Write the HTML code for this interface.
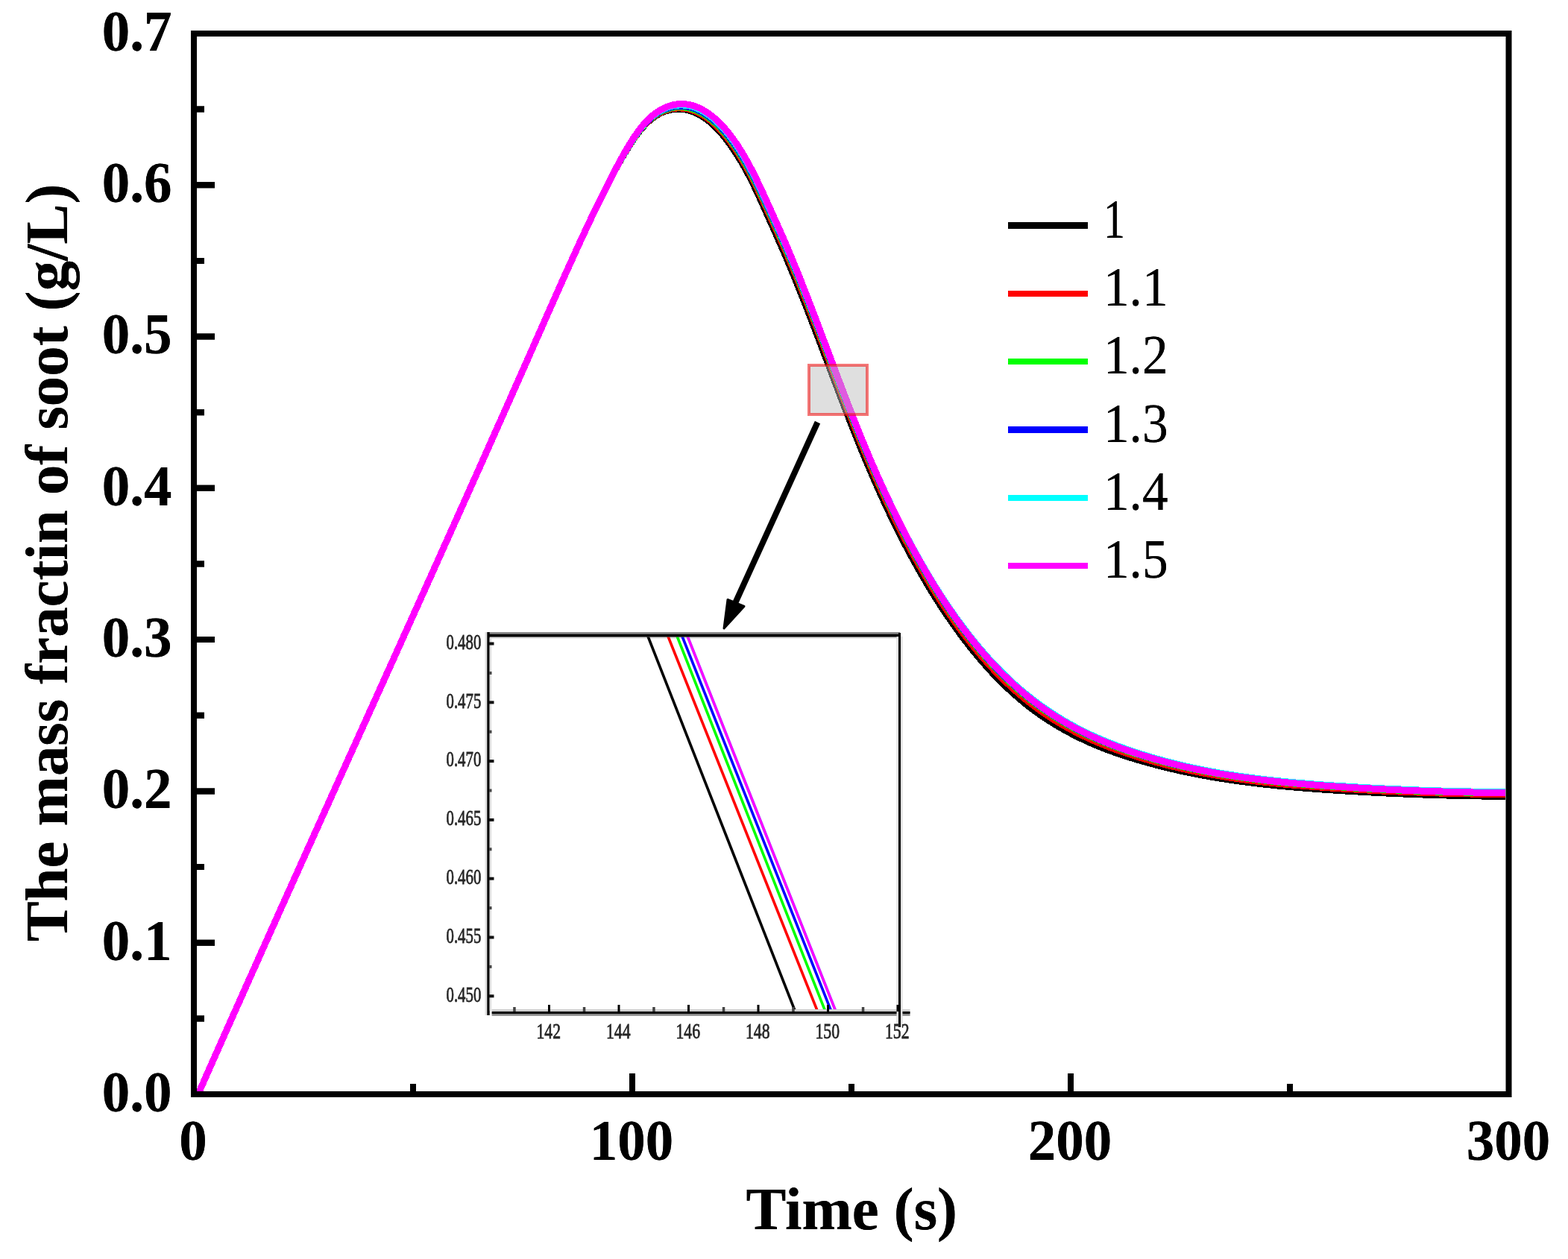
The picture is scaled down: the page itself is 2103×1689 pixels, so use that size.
<!DOCTYPE html><html><head><meta charset="utf-8"><title>Soot mass fraction vs time</title><style>html,body{margin:0;padding:0;background:#fff;}svg{display:block;}text{font-family:"Liberation Serif","Times New Roman",serif;}</style></head><body>
<svg width="2103" height="1689" viewBox="0 0 2103 1689">
<rect x="0" y="0" width="2103" height="1689" fill="#fff"/>
<clipPath id="pc"><rect x="264" y="49" width="1755" height="1415"/></clipPath>
<g clip-path="url(#pc)" fill="none" stroke-width="9" stroke-linejoin="round" stroke-linecap="butt" shape-rendering="crispEdges">
<polyline stroke="#000000" points="264,1471.8 265,1469.6 266,1467.3 267,1465.0 268,1462.8 269,1460.5 270,1458.3 271,1456.0 272,1453.8 273,1451.5 274,1449.2 275,1447.0 276,1444.7 277,1442.5 278,1440.2 279,1438.0 280,1435.7 281,1433.4 282,1431.2 283,1428.9 284,1426.7 285,1424.4 286,1422.2 287,1419.9 288,1417.7 289,1415.4 290,1413.2 291,1410.9 292,1408.7 293,1406.4 294,1404.2 295,1401.9 296,1399.7 297,1397.4 298,1395.2 299,1392.9 300,1390.7 301,1388.4 302,1386.2 303,1383.9 304,1381.7 305,1379.5 306,1377.2 307,1375.0 308,1372.7 309,1370.5 310,1368.2 311,1366.0 312,1363.7 313,1361.5 314,1359.3 315,1357.0 316,1354.8 317,1352.5 318,1350.3 319,1348.0 320,1345.8 321,1343.6 322,1341.3 323,1339.1 324,1336.8 325,1334.6 326,1332.4 327,1330.1 328,1327.9 329,1325.6 330,1323.4 331,1321.2 332,1318.9 333,1316.7 334,1314.5 335,1312.2 336,1310.0 337,1307.8 338,1305.5 339,1303.3 340,1301.0 341,1298.8 342,1296.6 343,1294.3 344,1292.1 345,1289.9 346,1287.6 347,1285.4 348,1283.2 349,1280.9 350,1278.7 351,1276.5 352,1274.2 353,1272.0 354,1269.8 355,1267.5 356,1265.3 357,1263.1 358,1260.9 359,1258.6 360,1256.4 361,1254.2 362,1251.9 363,1249.7 364,1247.5 365,1245.2 366,1243.0 367,1240.8 368,1238.6 369,1236.3 370,1234.1 371,1231.9 372,1229.6 373,1227.4 374,1225.2 375,1223.0 376,1220.7 377,1218.5 378,1216.3 379,1214.1 380,1211.8 381,1209.6 382,1207.4 383,1205.2 384,1202.9 385,1200.7 386,1198.5 387,1196.3 388,1194.0 389,1191.8 390,1189.6 391,1187.4 392,1185.1 393,1182.9 394,1180.7 395,1178.5 396,1176.2 397,1174.0 398,1171.8 399,1169.6 400,1167.4 401,1165.1 402,1162.9 403,1160.7 404,1158.5 405,1156.2 406,1154.0 407,1151.8 408,1149.6 409,1147.4 410,1145.1 411,1142.9 412,1140.7 413,1138.5 414,1136.3 415,1134.0 416,1131.8 417,1129.6 418,1127.4 419,1125.2 420,1122.9 421,1120.7 422,1118.5 423,1116.3 424,1114.1 425,1111.8 426,1109.6 427,1107.4 428,1105.2 429,1103.0 430,1100.8 431,1098.5 432,1096.3 433,1094.1 434,1091.9 435,1089.7 436,1087.4 437,1085.2 438,1083.0 439,1080.8 440,1078.6 441,1076.4 442,1074.1 443,1071.9 444,1069.7 445,1067.5 446,1065.3 447,1063.1 448,1060.8 449,1058.6 450,1056.4 451,1054.2 452,1052.0 453,1049.8 454,1047.5 455,1045.3 456,1043.1 457,1040.9 458,1038.7 459,1036.5 460,1034.2 461,1032.0 462,1029.8 463,1027.6 464,1025.4 465,1023.2 466,1020.9 467,1018.7 468,1016.5 469,1014.3 470,1012.1 471,1009.9 472,1007.7 473,1005.4 474,1003.2 475,1001.0 476,998.8 477,996.6 478,994.4 479,992.1 480,989.9 481,987.7 482,985.5 483,983.3 484,981.1 485,978.9 486,976.6 487,974.4 488,972.2 489,970.0 490,967.8 491,965.6 492,963.3 493,961.1 494,958.9 495,956.7 496,954.5 497,952.3 498,950.0 499,947.8 500,945.6 501,943.4 502,941.2 503,939.0 504,936.8 505,934.5 506,932.3 507,930.1 508,927.9 509,925.7 510,923.5 511,921.2 512,919.0 513,916.8 514,914.6 515,912.4 516,910.2 517,907.9 518,905.7 519,903.5 520,901.3 521,899.1 522,896.9 523,894.6 524,892.4 525,890.2 526,888.0 527,885.8 528,883.6 529,881.3 530,879.1 531,876.9 532,874.7 533,872.5 534,870.3 535,868.0 536,865.8 537,863.6 538,861.4 539,859.2 540,856.9 541,854.7 542,852.5 543,850.3 544,848.1 545,845.9 546,843.6 547,841.4 548,839.2 549,837.0 550,834.8 551,832.5 552,830.3 553,828.1 554,825.9 555,823.7 556,821.4 557,819.2 558,817.0 559,814.8 560,812.6 561,810.3 562,808.1 563,805.9 564,803.7 565,801.4 566,799.2 567,797.0 568,794.8 569,792.6 570,790.3 571,788.1 572,785.9 573,783.7 574,781.5 575,779.2 576,777.0 577,774.8 578,772.6 579,770.3 580,768.1 581,765.9 582,763.7 583,761.4 584,759.2 585,757.0 586,754.8 587,752.5 588,750.3 589,748.1 590,745.9 591,743.6 592,741.4 593,739.2 594,737.0 595,734.7 596,732.5 597,730.3 598,728.0 599,725.8 600,723.6 601,721.4 602,719.1 603,716.9 604,714.7 605,712.5 606,710.2 607,708.0 608,705.8 609,703.5 610,701.3 611,699.1 612,696.8 613,694.6 614,692.4 615,690.1 616,687.9 617,685.7 618,683.5 619,681.2 620,679.0 621,676.8 622,674.5 623,672.3 624,670.1 625,667.8 626,665.6 627,663.4 628,661.1 629,658.9 630,656.7 631,654.4 632,652.2 633,649.9 634,647.7 635,645.5 636,643.2 637,641.0 638,638.8 639,636.5 640,634.3 641,632.0 642,629.8 643,627.6 644,625.3 645,623.1 646,620.9 647,618.6 648,616.4 649,614.1 650,611.9 651,609.6 652,607.4 653,605.2 654,602.9 655,600.7 656,598.4 657,596.2 658,594.0 659,591.7 660,589.5 661,587.2 662,585.0 663,582.7 664,580.5 665,578.2 666,576.0 667,573.7 668,571.5 669,569.3 670,567.0 671,564.8 672,562.5 673,560.3 674,558.0 675,555.8 676,553.5 677,551.3 678,549.0 679,546.8 680,544.5 681,542.3 682,540.0 683,537.8 684,535.5 685,533.3 686,531.0 687,528.7 688,526.5 689,524.2 690,522.0 691,519.7 692,517.5 693,515.2 694,513.0 695,510.7 696,508.4 697,506.2 698,503.9 699,501.7 700,499.4 701,497.2 702,494.9 703,492.6 704,490.4 705,488.1 706,485.9 707,483.6 708,481.3 709,479.1 710,476.8 711,474.5 712,472.3 713,470.0 714,467.8 715,465.5 716,463.2 717,461.0 718,458.7 719,456.4 720,454.2 721,451.9 722,449.6 723,447.4 724,445.1 725,442.8 726,440.6 727,438.3 728,436.0 729,433.8 730,431.5 731,429.2 732,427.0 733,424.7 734,422.4 735,420.2 736,417.9 737,415.6 738,413.4 739,411.1 740,408.9 741,406.6 742,404.4 743,402.1 744,399.8 745,397.6 746,395.3 747,393.1 748,390.8 749,388.6 750,386.4 751,384.1 752,381.9 753,379.6 754,377.4 755,375.2 756,372.9 757,370.7 758,368.5 759,366.3 760,364.0 761,361.8 762,359.6 763,357.4 764,355.2 765,353.0 766,350.8 767,348.6 768,346.4 769,344.2 770,342.0 771,339.8 772,337.6 773,335.4 774,333.2 775,331.0 776,328.9 777,326.7 778,324.5 779,322.4 780,320.2 781,318.1 782,315.9 783,313.8 784,311.6 785,309.5 786,307.3 787,305.2 788,303.1 789,301.0 790,298.9 791,296.7 792,294.6 793,292.5 794,290.4 795,288.4 796,286.3 797,284.2 798,282.1 799,280.0 800,278.0 801,275.9 802,273.9 803,271.8 804,269.8 805,267.7 806,265.7 807,263.7 808,261.6 809,259.6 810,257.6 811,255.6 812,253.6 813,251.6 814,249.6 815,247.7 816,245.7 817,243.7 818,241.8 819,239.8 820,237.9 821,235.9 822,234.0 823,232.1 824,230.2 825,228.3 826,226.5 827,224.6 828,222.8 829,221.0 830,219.2 831,217.4 832,215.6 833,213.8 834,212.1 835,210.4 836,208.6 837,207.0 838,205.3 839,203.6 840,202.0 841,200.3 842,198.7 843,197.1 844,195.5 845,194.0 846,192.4 847,190.9 848,189.4 849,187.9 850,186.4 851,185.0 852,183.6 853,182.2 854,180.8 855,179.5 856,178.1 857,176.9 858,175.6 859,174.4 860,173.1 861,172.0 862,170.8 863,169.7 864,168.6 865,167.5 866,166.5 867,165.5 868,164.5 869,163.6 870,162.7 871,161.8 872,160.9 873,160.1 874,159.3 875,158.5 876,157.8 877,157.0 878,156.3 879,155.7 880,155.0 881,154.4 882,153.8 883,153.3 884,152.7 885,152.2 886,151.7 887,151.2 888,150.8 889,150.4 890,150.0 891,149.6 892,149.2 893,148.9 894,148.6 895,148.3 896,148.0 897,147.8 898,147.5 899,147.3 900,147.1 901,146.9 902,146.8 903,146.6 904,146.5 905,146.4 906,146.3 907,146.3 908,146.2 909,146.2 910,146.2 911,146.2 912,146.3 913,146.3 914,146.4 915,146.5 916,146.6 917,146.7 918,146.9 919,147.0 920,147.2 921,147.4 922,147.6 923,147.9 924,148.1 925,148.4 926,148.7 927,149.0 928,149.4 929,149.7 930,150.1 931,150.5 932,150.9 933,151.4 934,151.8 935,152.3 936,152.8 937,153.3 938,153.8 939,154.4 940,155.0 941,155.6 942,156.2 943,156.8 944,157.5 945,158.1 946,158.8 947,159.6 948,160.3 949,161.0 950,161.8 951,162.6 952,163.4 953,164.3 954,165.1 955,166.0 956,166.9 957,167.8 958,168.8 959,169.7 960,170.7 961,171.7 962,172.8 963,173.8 964,174.9 965,176.0 966,177.1 967,178.2 968,179.4 969,180.6 970,181.8 971,183.0 972,184.2 973,185.5 974,186.8 975,188.1 976,189.4 977,190.7 978,192.1 979,193.5 980,194.9 981,196.3 982,197.7 983,199.2 984,200.7 985,202.2 986,203.7 987,205.2 988,206.8 989,208.4 990,209.9 991,211.6 992,213.2 993,214.8 994,216.5 995,218.2 996,219.9 997,221.7 998,223.4 999,225.2 1000,227.0 1001,228.8 1002,230.7 1003,232.5 1004,234.4 1005,236.4 1006,238.3 1007,240.3 1008,242.2 1009,244.3 1010,246.3 1011,248.3 1012,250.4 1013,252.5 1014,254.6 1015,256.7 1016,258.8 1017,261.0 1018,263.1 1019,265.3 1020,267.5 1021,269.7 1022,271.9 1023,274.1 1024,276.3 1025,278.6 1026,280.8 1027,283.0 1028,285.3 1029,287.5 1030,289.8 1031,292.0 1032,294.3 1033,296.5 1034,298.8 1035,301.0 1036,303.2 1037,305.5 1038,307.7 1039,310.0 1040,312.2 1041,314.5 1042,316.7 1043,319.0 1044,321.3 1045,323.5 1046,325.8 1047,328.1 1048,330.3 1049,332.6 1050,334.9 1051,337.2 1052,339.5 1053,341.8 1054,344.2 1055,346.5 1056,348.9 1057,351.2 1058,353.6 1059,356.0 1060,358.3 1061,360.7 1062,363.2 1063,365.6 1064,368.0 1065,370.4 1066,372.9 1067,375.3 1068,377.8 1069,380.3 1070,382.7 1071,385.2 1072,387.7 1073,390.2 1074,392.7 1075,395.2 1076,397.8 1077,400.3 1078,402.8 1079,405.4 1080,407.9 1081,410.5 1082,413.0 1083,415.6 1084,418.2 1085,420.7 1086,423.3 1087,425.9 1088,428.5 1089,431.1 1090,433.7 1091,436.3 1092,438.9 1093,441.5 1094,444.1 1095,446.8 1096,449.4 1097,452.0 1098,454.6 1099,457.3 1100,459.9 1101,462.5 1102,465.2 1103,467.8 1104,470.4 1105,473.1 1106,475.7 1107,478.4 1108,481.0 1109,483.6 1110,486.3 1111,488.9 1112,491.6 1113,494.2 1114,496.9 1115,499.5 1116,502.2 1117,504.8 1118,507.4 1119,510.1 1120,512.7 1121,515.3 1122,518.0 1123,520.6 1124,523.2 1125,525.9 1126,528.5 1127,531.1 1128,533.7 1129,536.3 1130,538.9 1131,541.5 1132,544.1 1133,546.7 1134,549.3 1135,551.9 1136,554.5 1137,557.0 1138,559.6 1139,562.2 1140,564.7 1141,567.3 1142,569.8 1143,572.4 1144,574.9 1145,577.4 1146,579.9 1147,582.4 1148,585.0 1149,587.4 1150,589.9 1151,592.4 1152,594.9 1153,597.4 1154,599.8 1155,602.3 1156,604.7 1157,607.1 1158,609.5 1159,611.9 1160,614.3 1161,616.7 1162,619.1 1163,621.5 1164,623.8 1165,626.2 1166,628.5 1167,630.9 1168,633.2 1169,635.5 1170,637.8 1171,640.1 1172,642.4 1173,644.7 1174,647.0 1175,649.2 1176,651.5 1177,653.7 1178,656.0 1179,658.2 1180,660.4 1181,662.6 1182,664.8 1183,667.0 1184,669.2 1185,671.3 1186,673.5 1187,675.7 1188,677.8 1189,679.9 1190,682.1 1191,684.2 1192,686.3 1193,688.4 1194,690.5 1195,692.6 1196,694.6 1197,696.7 1198,698.8 1199,700.8 1200,702.9 1201,704.9 1202,706.9 1203,708.9 1204,710.9 1205,712.9 1206,714.9 1207,716.9 1208,718.9 1209,720.8 1210,722.8 1211,724.7 1212,726.7 1213,728.6 1214,730.5 1215,732.4 1216,734.3 1217,736.2 1218,738.1 1219,740.0 1220,741.9 1221,743.7 1222,745.6 1223,747.4 1224,749.3 1225,751.1 1226,752.9 1227,754.7 1228,756.5 1229,758.3 1230,760.1 1231,761.9 1232,763.7 1233,765.4 1234,767.2 1235,768.9 1236,770.7 1237,772.4 1238,774.1 1239,775.8 1240,777.5 1241,779.2 1242,780.9 1243,782.6 1244,784.3 1245,786.0 1246,787.6 1247,789.3 1248,790.9 1249,792.6 1250,794.2 1251,795.8 1252,797.4 1253,799.0 1254,800.6 1255,802.2 1256,803.8 1257,805.4 1258,807.0 1259,808.5 1260,810.1 1261,811.6 1262,813.2 1263,814.7 1264,816.2 1265,817.7 1266,819.2 1267,820.7 1268,822.2 1269,823.7 1270,825.2 1271,826.7 1272,828.2 1273,829.6 1274,831.1 1275,832.5 1276,833.9 1277,835.4 1278,836.8 1279,838.2 1280,839.6 1281,841.0 1282,842.4 1283,843.8 1284,845.2 1285,846.6 1286,848.0 1287,849.3 1288,850.7 1289,852.0 1290,853.4 1291,854.7 1292,856.0 1293,857.3 1294,858.7 1295,860.0 1296,861.3 1297,862.6 1298,863.9 1299,865.1 1300,866.4 1301,867.7 1302,868.9 1303,870.2 1304,871.4 1305,872.7 1306,873.9 1307,875.1 1308,876.4 1309,877.6 1310,878.8 1311,880.0 1312,881.2 1313,882.4 1314,883.6 1315,884.7 1316,885.9 1317,887.1 1318,888.2 1319,889.4 1320,890.5 1321,891.6 1322,892.8 1323,893.9 1324,895.0 1325,896.1 1326,897.2 1327,898.3 1328,899.4 1329,900.5 1330,901.6 1331,902.7 1332,903.7 1333,904.8 1334,905.8 1335,906.9 1336,907.9 1337,909.0 1338,910.0 1339,911.0 1340,912.0 1341,913.0 1342,914.0 1343,915.0 1344,916.0 1345,917.0 1346,918.0 1347,919.0 1348,919.9 1349,920.9 1350,921.9 1351,922.8 1352,923.8 1353,924.7 1354,925.6 1355,926.6 1356,927.5 1357,928.4 1358,929.3 1359,930.2 1360,931.1 1361,932.0 1362,932.9 1363,933.7 1364,934.6 1365,935.5 1366,936.3 1367,937.2 1368,938.0 1369,938.9 1370,939.7 1371,940.5 1372,941.4 1373,942.2 1374,943.0 1375,943.8 1376,944.6 1377,945.4 1378,946.2 1379,947.0 1380,947.8 1381,948.5 1382,949.3 1383,950.1 1384,950.8 1385,951.6 1386,952.3 1387,953.1 1388,953.8 1389,954.5 1390,955.2 1391,956.0 1392,956.7 1393,957.4 1394,958.1 1395,958.8 1396,959.5 1397,960.2 1398,960.9 1399,961.5 1400,962.2 1401,962.9 1402,963.6 1403,964.2 1404,964.9 1405,965.5 1406,966.2 1407,966.8 1408,967.5 1409,968.1 1410,968.7 1411,969.3 1412,970.0 1413,970.6 1414,971.2 1415,971.8 1416,972.4 1417,973.0 1418,973.6 1419,974.2 1420,974.8 1421,975.4 1422,976.0 1423,976.5 1424,977.1 1425,977.7 1426,978.2 1427,978.8 1428,979.4 1429,979.9 1430,980.5 1431,981.0 1432,981.6 1433,982.1 1434,982.6 1435,983.2 1436,983.7 1437,984.2 1438,984.8 1439,985.3 1440,985.8 1441,986.3 1442,986.8 1443,987.3 1444,987.8 1445,988.3 1446,988.8 1447,989.3 1448,989.8 1449,990.3 1450,990.8 1451,991.2 1452,991.7 1453,992.2 1454,992.7 1455,993.1 1456,993.6 1457,994.0 1458,994.5 1459,994.9 1460,995.4 1461,995.8 1462,996.3 1463,996.7 1464,997.2 1465,997.6 1466,998.0 1467,998.4 1468,998.9 1469,999.3 1470,999.7 1471,1000.1 1472,1000.5 1473,1000.9 1474,1001.3 1475,1001.7 1476,1002.1 1477,1002.5 1478,1002.9 1479,1003.3 1480,1003.7 1481,1004.1 1482,1004.5 1483,1004.9 1484,1005.3 1485,1005.6 1486,1006.0 1487,1006.4 1488,1006.8 1489,1007.1 1490,1007.5 1491,1007.9 1492,1008.2 1493,1008.6 1494,1008.9 1495,1009.3 1496,1009.6 1497,1010.0 1498,1010.3 1499,1010.7 1500,1011.0 1501,1011.4 1502,1011.7 1503,1012.0 1504,1012.4 1505,1012.7 1506,1013.0 1507,1013.4 1508,1013.7 1509,1014.0 1510,1014.3 1511,1014.7 1512,1015.0 1513,1015.3 1514,1015.6 1515,1015.9 1516,1016.3 1517,1016.6 1518,1016.9 1519,1017.2 1520,1017.5 1521,1017.8 1522,1018.1 1523,1018.4 1524,1018.7 1525,1019.0 1526,1019.3 1527,1019.6 1528,1019.9 1529,1020.2 1530,1020.5 1531,1020.8 1532,1021.1 1533,1021.4 1534,1021.6 1535,1021.9 1536,1022.2 1537,1022.5 1538,1022.8 1539,1023.1 1540,1023.3 1541,1023.6 1542,1023.9 1543,1024.2 1544,1024.4 1545,1024.7 1546,1025.0 1547,1025.2 1548,1025.5 1549,1025.8 1550,1026.0 1551,1026.3 1552,1026.6 1553,1026.8 1554,1027.1 1555,1027.3 1556,1027.6 1557,1027.9 1558,1028.1 1559,1028.4 1560,1028.6 1561,1028.9 1562,1029.1 1563,1029.4 1564,1029.6 1565,1029.9 1566,1030.1 1567,1030.4 1568,1030.6 1569,1030.8 1570,1031.1 1571,1031.3 1572,1031.5 1573,1031.8 1574,1032.0 1575,1032.2 1576,1032.5 1577,1032.7 1578,1032.9 1579,1033.2 1580,1033.4 1581,1033.6 1582,1033.8 1583,1034.0 1584,1034.3 1585,1034.5 1586,1034.7 1587,1034.9 1588,1035.1 1589,1035.3 1590,1035.6 1591,1035.8 1592,1036.0 1593,1036.2 1594,1036.4 1595,1036.6 1596,1036.8 1597,1037.0 1598,1037.2 1599,1037.4 1600,1037.6 1601,1037.8 1602,1038.0 1603,1038.2 1604,1038.4 1605,1038.6 1606,1038.8 1607,1039.0 1608,1039.2 1609,1039.4 1610,1039.5 1611,1039.7 1612,1039.9 1613,1040.1 1614,1040.3 1615,1040.5 1616,1040.7 1617,1040.8 1618,1041.0 1619,1041.2 1620,1041.4 1621,1041.5 1622,1041.7 1623,1041.9 1624,1042.1 1625,1042.2 1626,1042.4 1627,1042.6 1628,1042.7 1629,1042.9 1630,1043.1 1631,1043.2 1632,1043.4 1633,1043.6 1634,1043.7 1635,1043.9 1636,1044.1 1637,1044.2 1638,1044.4 1639,1044.5 1640,1044.7 1641,1044.9 1642,1045.0 1643,1045.2 1644,1045.3 1645,1045.5 1646,1045.6 1647,1045.8 1648,1045.9 1649,1046.1 1650,1046.2 1651,1046.4 1652,1046.5 1653,1046.7 1654,1046.8 1655,1046.9 1656,1047.1 1657,1047.2 1658,1047.4 1659,1047.5 1660,1047.7 1661,1047.8 1662,1047.9 1663,1048.1 1664,1048.2 1665,1048.3 1666,1048.5 1667,1048.6 1668,1048.7 1669,1048.9 1670,1049.0 1671,1049.1 1672,1049.3 1673,1049.4 1674,1049.5 1675,1049.7 1676,1049.8 1677,1049.9 1678,1050.0 1679,1050.2 1680,1050.3 1681,1050.4 1682,1050.5 1683,1050.7 1684,1050.8 1685,1050.9 1686,1051.0 1687,1051.1 1688,1051.3 1689,1051.4 1690,1051.5 1691,1051.6 1692,1051.7 1693,1051.8 1694,1051.9 1695,1052.1 1696,1052.2 1697,1052.3 1698,1052.4 1699,1052.5 1700,1052.6 1701,1052.7 1702,1052.8 1703,1052.9 1704,1053.0 1705,1053.1 1706,1053.2 1707,1053.4 1708,1053.5 1709,1053.6 1710,1053.7 1711,1053.8 1712,1053.9 1713,1054.0 1714,1054.1 1715,1054.2 1716,1054.3 1717,1054.4 1718,1054.5 1719,1054.5 1720,1054.6 1721,1054.7 1722,1054.8 1723,1054.9 1724,1055.0 1725,1055.1 1726,1055.2 1727,1055.3 1728,1055.4 1729,1055.5 1730,1055.6 1731,1055.7 1732,1055.7 1733,1055.8 1734,1055.9 1735,1056.0 1736,1056.1 1737,1056.2 1738,1056.3 1739,1056.3 1740,1056.4 1741,1056.5 1742,1056.6 1743,1056.7 1744,1056.8 1745,1056.8 1746,1056.9 1747,1057.0 1748,1057.1 1749,1057.2 1750,1057.2 1751,1057.3 1752,1057.4 1753,1057.5 1754,1057.6 1755,1057.6 1756,1057.7 1757,1057.8 1758,1057.9 1759,1057.9 1760,1058.0 1761,1058.1 1762,1058.2 1763,1058.2 1764,1058.3 1765,1058.4 1766,1058.5 1767,1058.5 1768,1058.6 1769,1058.7 1770,1058.7 1771,1058.8 1772,1058.9 1773,1059.0 1774,1059.0 1775,1059.1 1776,1059.2 1777,1059.2 1778,1059.3 1779,1059.4 1780,1059.4 1781,1059.5 1782,1059.6 1783,1059.6 1784,1059.7 1785,1059.8 1786,1059.8 1787,1059.9 1788,1060.0 1789,1060.0 1790,1060.1 1791,1060.2 1792,1060.2 1793,1060.3 1794,1060.3 1795,1060.4 1796,1060.5 1797,1060.5 1798,1060.6 1799,1060.7 1800,1060.7 1801,1060.8 1802,1060.8 1803,1060.9 1804,1061.0 1805,1061.0 1806,1061.1 1807,1061.2 1808,1061.2 1809,1061.3 1810,1061.3 1811,1061.4 1812,1061.5 1813,1061.5 1814,1061.6 1815,1061.6 1816,1061.7 1817,1061.7 1818,1061.8 1819,1061.9 1820,1061.9 1821,1062.0 1822,1062.0 1823,1062.1 1824,1062.1 1825,1062.2 1826,1062.3 1827,1062.3 1828,1062.4 1829,1062.4 1830,1062.5 1831,1062.5 1832,1062.6 1833,1062.6 1834,1062.7 1835,1062.7 1836,1062.8 1837,1062.9 1838,1062.9 1839,1063.0 1840,1063.0 1841,1063.1 1842,1063.1 1843,1063.2 1844,1063.2 1845,1063.3 1846,1063.3 1847,1063.4 1848,1063.4 1849,1063.5 1850,1063.5 1851,1063.6 1852,1063.6 1853,1063.7 1854,1063.7 1855,1063.8 1856,1063.8 1857,1063.9 1858,1063.9 1859,1064.0 1860,1064.0 1861,1064.1 1862,1064.1 1863,1064.1 1864,1064.2 1865,1064.2 1866,1064.3 1867,1064.3 1868,1064.4 1869,1064.4 1870,1064.5 1871,1064.5 1872,1064.6 1873,1064.6 1874,1064.6 1875,1064.7 1876,1064.7 1877,1064.8 1878,1064.8 1879,1064.9 1880,1064.9 1881,1064.9 1882,1065.0 1883,1065.0 1884,1065.1 1885,1065.1 1886,1065.1 1887,1065.2 1888,1065.2 1889,1065.3 1890,1065.3 1891,1065.3 1892,1065.4 1893,1065.4 1894,1065.5 1895,1065.5 1896,1065.5 1897,1065.6 1898,1065.6 1899,1065.7 1900,1065.7 1901,1065.7 1902,1065.8 1903,1065.8 1904,1065.8 1905,1065.9 1906,1065.9 1907,1065.9 1908,1066.0 1909,1066.0 1910,1066.0 1911,1066.1 1912,1066.1 1913,1066.1 1914,1066.2 1915,1066.2 1916,1066.2 1917,1066.3 1918,1066.3 1919,1066.3 1920,1066.4 1921,1066.4 1922,1066.4 1923,1066.5 1924,1066.5 1925,1066.5 1926,1066.6 1927,1066.6 1928,1066.6 1929,1066.7 1930,1066.7 1931,1066.7 1932,1066.7 1933,1066.8 1934,1066.8 1935,1066.8 1936,1066.9 1937,1066.9 1938,1066.9 1939,1066.9 1940,1067.0 1941,1067.0 1942,1067.0 1943,1067.0 1944,1067.1 1945,1067.1 1946,1067.1 1947,1067.1 1948,1067.2 1949,1067.2 1950,1067.2 1951,1067.2 1952,1067.3 1953,1067.3 1954,1067.3 1955,1067.3 1956,1067.4 1957,1067.4 1958,1067.4 1959,1067.4 1960,1067.5 1961,1067.5 1962,1067.5 1963,1067.5 1964,1067.5 1965,1067.6 1966,1067.6 1967,1067.6 1968,1067.6 1969,1067.6 1970,1067.7 1971,1067.7 1972,1067.7 1973,1067.7 1974,1067.7 1975,1067.8 1976,1067.8 1977,1067.8 1978,1067.8 1979,1067.8 1980,1067.8 1981,1067.9 1982,1067.9 1983,1067.9 1984,1067.9 1985,1067.9 1986,1067.9 1987,1068.0 1988,1068.0 1989,1068.0 1990,1068.0 1991,1068.0 1992,1068.0 1993,1068.1 1994,1068.1 1995,1068.1 1996,1068.1 1997,1068.1 1998,1068.1 1999,1068.1 2000,1068.1 2001,1068.2 2002,1068.2 2003,1068.2 2004,1068.2 2005,1068.2 2006,1068.2 2007,1068.2 2008,1068.2 2009,1068.2 2010,1068.3 2011,1068.3 2012,1068.3 2013,1068.3 2014,1068.3 2015,1068.3 2016,1068.3 2017,1068.3 2018,1068.3 2019,1068.3 2020,1068.4"/>
<polyline stroke="#ff0000" points="264,1471.8 265,1469.6 266,1467.3 267,1465.0 268,1462.8 269,1460.5 270,1458.3 271,1456.0 272,1453.8 273,1451.5 274,1449.2 275,1447.0 276,1444.7 277,1442.5 278,1440.2 279,1438.0 280,1435.7 281,1433.4 282,1431.2 283,1428.9 284,1426.7 285,1424.4 286,1422.2 287,1419.9 288,1417.7 289,1415.4 290,1413.2 291,1410.9 292,1408.7 293,1406.4 294,1404.2 295,1401.9 296,1399.7 297,1397.4 298,1395.2 299,1392.9 300,1390.7 301,1388.4 302,1386.2 303,1383.9 304,1381.7 305,1379.5 306,1377.2 307,1375.0 308,1372.7 309,1370.5 310,1368.2 311,1366.0 312,1363.7 313,1361.5 314,1359.3 315,1357.0 316,1354.8 317,1352.5 318,1350.3 319,1348.0 320,1345.8 321,1343.6 322,1341.3 323,1339.1 324,1336.8 325,1334.6 326,1332.4 327,1330.1 328,1327.9 329,1325.6 330,1323.4 331,1321.2 332,1318.9 333,1316.7 334,1314.5 335,1312.2 336,1310.0 337,1307.8 338,1305.5 339,1303.3 340,1301.0 341,1298.8 342,1296.6 343,1294.3 344,1292.1 345,1289.9 346,1287.6 347,1285.4 348,1283.2 349,1280.9 350,1278.7 351,1276.5 352,1274.2 353,1272.0 354,1269.8 355,1267.5 356,1265.3 357,1263.1 358,1260.9 359,1258.6 360,1256.4 361,1254.2 362,1251.9 363,1249.7 364,1247.5 365,1245.2 366,1243.0 367,1240.8 368,1238.6 369,1236.3 370,1234.1 371,1231.9 372,1229.6 373,1227.4 374,1225.2 375,1223.0 376,1220.7 377,1218.5 378,1216.3 379,1214.1 380,1211.8 381,1209.6 382,1207.4 383,1205.2 384,1202.9 385,1200.7 386,1198.5 387,1196.3 388,1194.0 389,1191.8 390,1189.6 391,1187.4 392,1185.1 393,1182.9 394,1180.7 395,1178.5 396,1176.2 397,1174.0 398,1171.8 399,1169.6 400,1167.4 401,1165.1 402,1162.9 403,1160.7 404,1158.5 405,1156.2 406,1154.0 407,1151.8 408,1149.6 409,1147.4 410,1145.1 411,1142.9 412,1140.7 413,1138.5 414,1136.3 415,1134.0 416,1131.8 417,1129.6 418,1127.4 419,1125.2 420,1122.9 421,1120.7 422,1118.5 423,1116.3 424,1114.1 425,1111.8 426,1109.6 427,1107.4 428,1105.2 429,1103.0 430,1100.8 431,1098.5 432,1096.3 433,1094.1 434,1091.9 435,1089.7 436,1087.4 437,1085.2 438,1083.0 439,1080.8 440,1078.6 441,1076.4 442,1074.1 443,1071.9 444,1069.7 445,1067.5 446,1065.3 447,1063.1 448,1060.8 449,1058.6 450,1056.4 451,1054.2 452,1052.0 453,1049.8 454,1047.5 455,1045.3 456,1043.1 457,1040.9 458,1038.7 459,1036.5 460,1034.2 461,1032.0 462,1029.8 463,1027.6 464,1025.4 465,1023.2 466,1020.9 467,1018.7 468,1016.5 469,1014.3 470,1012.1 471,1009.9 472,1007.7 473,1005.4 474,1003.2 475,1001.0 476,998.8 477,996.6 478,994.4 479,992.1 480,989.9 481,987.7 482,985.5 483,983.3 484,981.1 485,978.9 486,976.6 487,974.4 488,972.2 489,970.0 490,967.8 491,965.6 492,963.3 493,961.1 494,958.9 495,956.7 496,954.5 497,952.3 498,950.0 499,947.8 500,945.6 501,943.4 502,941.2 503,939.0 504,936.8 505,934.5 506,932.3 507,930.1 508,927.9 509,925.7 510,923.5 511,921.2 512,919.0 513,916.8 514,914.6 515,912.4 516,910.2 517,907.9 518,905.7 519,903.5 520,901.3 521,899.1 522,896.9 523,894.6 524,892.4 525,890.2 526,888.0 527,885.8 528,883.6 529,881.3 530,879.1 531,876.9 532,874.7 533,872.5 534,870.3 535,868.0 536,865.8 537,863.6 538,861.4 539,859.2 540,856.9 541,854.7 542,852.5 543,850.3 544,848.1 545,845.9 546,843.6 547,841.4 548,839.2 549,837.0 550,834.8 551,832.5 552,830.3 553,828.1 554,825.9 555,823.7 556,821.4 557,819.2 558,817.0 559,814.8 560,812.6 561,810.3 562,808.1 563,805.9 564,803.7 565,801.4 566,799.2 567,797.0 568,794.8 569,792.6 570,790.3 571,788.1 572,785.9 573,783.7 574,781.5 575,779.2 576,777.0 577,774.8 578,772.6 579,770.3 580,768.1 581,765.9 582,763.7 583,761.4 584,759.2 585,757.0 586,754.8 587,752.5 588,750.3 589,748.1 590,745.9 591,743.6 592,741.4 593,739.2 594,737.0 595,734.7 596,732.5 597,730.3 598,728.0 599,725.8 600,723.6 601,721.4 602,719.1 603,716.9 604,714.7 605,712.5 606,710.2 607,708.0 608,705.8 609,703.5 610,701.3 611,699.1 612,696.8 613,694.6 614,692.4 615,690.1 616,687.9 617,685.7 618,683.5 619,681.2 620,679.0 621,676.8 622,674.5 623,672.3 624,670.1 625,667.8 626,665.6 627,663.4 628,661.1 629,658.9 630,656.7 631,654.4 632,652.2 633,649.9 634,647.7 635,645.5 636,643.2 637,641.0 638,638.8 639,636.5 640,634.3 641,632.0 642,629.8 643,627.6 644,625.3 645,623.1 646,620.9 647,618.6 648,616.4 649,614.1 650,611.9 651,609.6 652,607.4 653,605.2 654,602.9 655,600.7 656,598.4 657,596.2 658,594.0 659,591.7 660,589.5 661,587.2 662,585.0 663,582.7 664,580.5 665,578.2 666,576.0 667,573.7 668,571.5 669,569.3 670,567.0 671,564.8 672,562.5 673,560.3 674,558.0 675,555.8 676,553.5 677,551.3 678,549.0 679,546.8 680,544.5 681,542.3 682,540.0 683,537.8 684,535.5 685,533.3 686,531.0 687,528.7 688,526.5 689,524.2 690,522.0 691,519.7 692,517.5 693,515.2 694,513.0 695,510.7 696,508.4 697,506.2 698,503.9 699,501.7 700,499.4 701,497.2 702,494.9 703,492.6 704,490.4 705,488.1 706,485.9 707,483.6 708,481.3 709,479.1 710,476.8 711,474.5 712,472.3 713,470.0 714,467.8 715,465.5 716,463.2 717,461.0 718,458.7 719,456.4 720,454.2 721,451.9 722,449.6 723,447.4 724,445.1 725,442.8 726,440.6 727,438.3 728,436.0 729,433.8 730,431.5 731,429.2 732,427.0 733,424.7 734,422.4 735,420.2 736,417.9 737,415.6 738,413.4 739,411.1 740,408.9 741,406.6 742,404.4 743,402.1 744,399.8 745,397.6 746,395.3 747,393.1 748,390.8 749,388.6 750,386.4 751,384.1 752,381.9 753,379.6 754,377.4 755,375.2 756,372.9 757,370.7 758,368.5 759,366.3 760,364.0 761,361.8 762,359.6 763,357.4 764,355.2 765,353.0 766,350.8 767,348.6 768,346.4 769,344.2 770,342.0 771,339.8 772,337.6 773,335.4 774,333.2 775,331.0 776,328.9 777,326.7 778,324.5 779,322.4 780,320.2 781,318.1 782,315.9 783,313.8 784,311.6 785,309.5 786,307.3 787,305.2 788,303.1 789,301.0 790,298.9 791,296.7 792,294.6 793,292.5 794,290.4 795,288.4 796,286.3 797,284.2 798,282.1 799,280.0 800,278.0 801,275.9 802,273.9 803,271.8 804,269.8 805,267.7 806,265.7 807,263.7 808,261.6 809,259.6 810,257.6 811,255.6 812,253.6 813,251.6 814,249.6 815,247.7 816,245.7 817,243.7 818,241.8 819,239.8 820,237.9 821,235.9 822,234.0 823,232.1 824,230.2 825,228.3 826,226.5 827,224.6 828,222.8 829,220.9 830,219.1 831,217.3 832,215.5 833,213.7 834,212.0 835,210.2 836,208.5 837,206.8 838,205.1 839,203.4 840,201.8 841,200.1 842,198.5 843,196.9 844,195.3 845,193.7 846,192.1 847,190.6 848,189.1 849,187.6 850,186.1 851,184.7 852,183.2 853,181.8 854,180.4 855,179.1 856,177.8 857,176.4 858,175.2 859,173.9 860,172.7 861,171.5 862,170.3 863,169.2 864,168.1 865,167.0 866,166.0 867,164.9 868,164.0 869,163.0 870,162.1 871,161.2 872,160.3 873,159.4 874,158.6 875,157.8 876,157.1 877,156.3 878,155.6 879,154.9 880,154.3 881,153.7 882,153.0 883,152.5 884,151.9 885,151.4 886,150.9 887,150.4 888,149.9 889,149.5 890,149.1 891,148.7 892,148.3 893,147.9 894,147.6 895,147.3 896,147.0 897,146.7 898,146.5 899,146.2 900,146.0 901,145.8 902,145.6 903,145.5 904,145.3 905,145.2 906,145.1 907,145.0 908,145.0 909,144.9 910,144.9 911,144.9 912,144.9 913,145.0 914,145.0 915,145.1 916,145.1 917,145.2 918,145.4 919,145.5 920,145.7 921,145.8 922,146.0 923,146.2 924,146.5 925,146.7 926,147.0 927,147.3 928,147.6 929,147.9 930,148.3 931,148.6 932,149.0 933,149.4 934,149.9 935,150.3 936,150.8 937,151.2 938,151.8 939,152.3 940,152.8 941,153.4 942,154.0 943,154.6 944,155.2 945,155.8 946,156.5 947,157.2 948,157.9 949,158.6 950,159.3 951,160.1 952,160.8 953,161.6 954,162.5 955,163.3 956,164.2 957,165.0 958,165.9 959,166.9 960,167.8 961,168.8 962,169.7 963,170.7 964,171.8 965,172.8 966,173.9 967,175.0 968,176.1 969,177.2 970,178.3 971,179.5 972,180.7 973,181.9 974,183.1 975,184.4 976,185.7 977,186.9 978,188.3 979,189.6 980,190.9 981,192.3 982,193.7 983,195.1 984,196.5 985,198.0 986,199.4 987,200.9 988,202.4 989,204.0 990,205.5 991,207.1 992,208.7 993,210.3 994,211.9 995,213.6 996,215.2 997,216.9 998,218.6 999,220.4 1000,222.1 1001,223.9 1002,225.7 1003,227.5 1004,229.4 1005,231.3 1006,233.2 1007,235.1 1008,237.0 1009,239.0 1010,241.0 1011,243.0 1012,245.0 1013,247.0 1014,249.1 1015,251.2 1016,253.2 1017,255.3 1018,257.5 1019,259.6 1020,261.7 1021,263.9 1022,266.0 1023,268.2 1024,270.4 1025,272.6 1026,274.8 1027,277.0 1028,279.2 1029,281.4 1030,283.6 1031,285.8 1032,288.0 1033,290.2 1034,292.4 1035,294.6 1036,296.8 1037,299.1 1038,301.3 1039,303.5 1040,305.7 1041,307.9 1042,310.1 1043,312.4 1044,314.6 1045,316.8 1046,319.1 1047,321.3 1048,323.6 1049,325.8 1050,328.1 1051,330.4 1052,332.6 1053,334.9 1054,337.2 1055,339.5 1056,341.9 1057,344.2 1058,346.6 1059,348.9 1060,351.3 1061,353.7 1062,356.0 1063,358.4 1064,360.8 1065,363.3 1066,365.7 1067,368.1 1068,370.6 1069,373.0 1070,375.5 1071,377.9 1072,380.4 1073,382.9 1074,385.4 1075,387.9 1076,390.4 1077,392.9 1078,395.4 1079,397.9 1080,400.5 1081,403.0 1082,405.5 1083,408.1 1084,410.6 1085,413.2 1086,415.8 1087,418.3 1088,420.9 1089,423.5 1090,426.1 1091,428.7 1092,431.2 1093,433.8 1094,436.4 1095,439.0 1096,441.6 1097,444.3 1098,446.9 1099,449.5 1100,452.1 1101,454.7 1102,457.3 1103,460.0 1104,462.6 1105,465.2 1106,467.8 1107,470.5 1108,473.1 1109,475.7 1110,478.3 1111,481.0 1112,483.6 1113,486.2 1114,488.9 1115,491.5 1116,494.2 1117,496.8 1118,499.5 1119,502.1 1120,504.8 1121,507.4 1122,510.1 1123,512.7 1124,515.3 1125,518.0 1126,520.6 1127,523.2 1128,525.8 1129,528.5 1130,531.1 1131,533.7 1132,536.3 1133,538.9 1134,541.5 1135,544.1 1136,546.7 1137,549.3 1138,551.8 1139,554.4 1140,557.0 1141,559.5 1142,562.1 1143,564.6 1144,567.2 1145,569.7 1146,572.2 1147,574.8 1148,577.3 1149,579.8 1150,582.3 1151,584.8 1152,587.3 1153,589.7 1154,592.2 1155,594.7 1156,597.1 1157,599.5 1158,602.0 1159,604.4 1160,606.8 1161,609.2 1162,611.6 1163,614.0 1164,616.3 1165,618.7 1166,621.1 1167,623.4 1168,625.7 1169,628.1 1170,630.4 1171,632.7 1172,635.0 1173,637.3 1174,639.6 1175,641.8 1176,644.1 1177,646.4 1178,648.6 1179,650.8 1180,653.1 1181,655.3 1182,657.5 1183,659.7 1184,661.9 1185,664.1 1186,666.2 1187,668.4 1188,670.6 1189,672.7 1190,674.8 1191,677.0 1192,679.1 1193,681.2 1194,683.3 1195,685.4 1196,687.5 1197,689.6 1198,691.6 1199,693.7 1200,695.8 1201,697.8 1202,699.8 1203,701.9 1204,703.9 1205,705.9 1206,707.9 1207,709.9 1208,711.8 1209,713.8 1210,715.8 1211,717.7 1212,719.7 1213,721.6 1214,723.6 1215,725.5 1216,727.4 1217,729.3 1218,731.2 1219,733.1 1220,735.0 1221,736.8 1222,738.7 1223,740.6 1224,742.4 1225,744.3 1226,746.1 1227,747.9 1228,749.7 1229,751.5 1230,753.3 1231,755.1 1232,756.9 1233,758.7 1234,760.4 1235,762.2 1236,763.9 1237,765.7 1238,767.4 1239,769.1 1240,770.9 1241,772.6 1242,774.3 1243,776.0 1244,777.7 1245,779.3 1246,781.0 1247,782.7 1248,784.3 1249,786.0 1250,787.6 1251,789.2 1252,790.9 1253,792.5 1254,794.1 1255,795.7 1256,797.3 1257,798.9 1258,800.5 1259,802.0 1260,803.6 1261,805.2 1262,806.7 1263,808.2 1264,809.8 1265,811.3 1266,812.8 1267,814.3 1268,815.8 1269,817.3 1270,818.8 1271,820.3 1272,821.8 1273,823.3 1274,824.7 1275,826.2 1276,827.6 1277,829.1 1278,830.5 1279,831.9 1280,833.3 1281,834.7 1282,836.1 1283,837.5 1284,838.9 1285,840.3 1286,841.7 1287,843.1 1288,844.4 1289,845.8 1290,847.1 1291,848.5 1292,849.8 1293,851.1 1294,852.4 1295,853.8 1296,855.1 1297,856.4 1298,857.6 1299,858.9 1300,860.2 1301,861.5 1302,862.7 1303,864.0 1304,865.2 1305,866.5 1306,867.7 1307,869.0 1308,870.2 1309,871.4 1310,872.6 1311,873.8 1312,875.0 1313,876.2 1314,877.4 1315,878.6 1316,879.7 1317,880.9 1318,882.1 1319,883.2 1320,884.4 1321,885.5 1322,886.6 1323,887.7 1324,888.9 1325,890.0 1326,891.1 1327,892.2 1328,893.3 1329,894.4 1330,895.4 1331,896.5 1332,897.6 1333,898.7 1334,899.7 1335,900.8 1336,901.8 1337,902.8 1338,903.9 1339,904.9 1340,905.9 1341,906.9 1342,907.9 1343,908.9 1344,909.9 1345,910.9 1346,911.9 1347,912.9 1348,913.9 1349,914.8 1350,915.8 1351,916.7 1352,917.7 1353,918.6 1354,919.6 1355,920.5 1356,921.4 1357,922.3 1358,923.2 1359,924.1 1360,925.0 1361,925.9 1362,926.8 1363,927.7 1364,928.6 1365,929.5 1366,930.3 1367,931.2 1368,932.0 1369,932.9 1370,933.7 1371,934.6 1372,935.4 1373,936.2 1374,937.1 1375,937.9 1376,938.7 1377,939.5 1378,940.3 1379,941.1 1380,941.9 1381,942.7 1382,943.4 1383,944.2 1384,945.0 1385,945.7 1386,946.5 1387,947.3 1388,948.0 1389,948.7 1390,949.5 1391,950.2 1392,950.9 1393,951.7 1394,952.4 1395,953.1 1396,953.8 1397,954.5 1398,955.2 1399,955.9 1400,956.6 1401,957.3 1402,958.0 1403,958.6 1404,959.3 1405,960.0 1406,960.6 1407,961.3 1408,961.9 1409,962.6 1410,963.2 1411,963.9 1412,964.5 1413,965.1 1414,965.8 1415,966.4 1416,967.0 1417,967.6 1418,968.2 1419,968.9 1420,969.5 1421,970.1 1422,970.7 1423,971.2 1424,971.8 1425,972.4 1426,973.0 1427,973.6 1428,974.1 1429,974.7 1430,975.3 1431,975.8 1432,976.4 1433,977.0 1434,977.5 1435,978.0 1436,978.6 1437,979.1 1438,979.7 1439,980.2 1440,980.7 1441,981.3 1442,981.8 1443,982.3 1444,982.8 1445,983.3 1446,983.8 1447,984.3 1448,984.8 1449,985.3 1450,985.8 1451,986.3 1452,986.8 1453,987.3 1454,987.8 1455,988.2 1456,988.7 1457,989.2 1458,989.7 1459,990.1 1460,990.6 1461,991.0 1462,991.5 1463,991.9 1464,992.4 1465,992.8 1466,993.3 1467,993.7 1468,994.2 1469,994.6 1470,995.0 1471,995.4 1472,995.9 1473,996.3 1474,996.7 1475,997.1 1476,997.5 1477,998.0 1478,998.4 1479,998.8 1480,999.2 1481,999.6 1482,1000.0 1483,1000.4 1484,1000.8 1485,1001.2 1486,1001.5 1487,1001.9 1488,1002.3 1489,1002.7 1490,1003.1 1491,1003.5 1492,1003.8 1493,1004.2 1494,1004.6 1495,1004.9 1496,1005.3 1497,1005.7 1498,1006.0 1499,1006.4 1500,1006.7 1501,1007.1 1502,1007.4 1503,1007.8 1504,1008.1 1505,1008.5 1506,1008.8 1507,1009.2 1508,1009.5 1509,1009.9 1510,1010.2 1511,1010.5 1512,1010.9 1513,1011.2 1514,1011.5 1515,1011.9 1516,1012.2 1517,1012.5 1518,1012.8 1519,1013.1 1520,1013.5 1521,1013.8 1522,1014.1 1523,1014.4 1524,1014.7 1525,1015.0 1526,1015.4 1527,1015.7 1528,1016.0 1529,1016.3 1530,1016.6 1531,1016.9 1532,1017.2 1533,1017.5 1534,1017.8 1535,1018.1 1536,1018.4 1537,1018.7 1538,1019.0 1539,1019.2 1540,1019.5 1541,1019.8 1542,1020.1 1543,1020.4 1544,1020.7 1545,1021.0 1546,1021.2 1547,1021.5 1548,1021.8 1549,1022.1 1550,1022.3 1551,1022.6 1552,1022.9 1553,1023.2 1554,1023.4 1555,1023.7 1556,1024.0 1557,1024.2 1558,1024.5 1559,1024.8 1560,1025.0 1561,1025.3 1562,1025.5 1563,1025.8 1564,1026.1 1565,1026.3 1566,1026.6 1567,1026.8 1568,1027.1 1569,1027.3 1570,1027.6 1571,1027.8 1572,1028.0 1573,1028.3 1574,1028.5 1575,1028.8 1576,1029.0 1577,1029.2 1578,1029.5 1579,1029.7 1580,1029.9 1581,1030.2 1582,1030.4 1583,1030.6 1584,1030.9 1585,1031.1 1586,1031.3 1587,1031.5 1588,1031.8 1589,1032.0 1590,1032.2 1591,1032.4 1592,1032.6 1593,1032.9 1594,1033.1 1595,1033.3 1596,1033.5 1597,1033.7 1598,1033.9 1599,1034.1 1600,1034.3 1601,1034.5 1602,1034.7 1603,1034.9 1604,1035.1 1605,1035.3 1606,1035.5 1607,1035.7 1608,1035.9 1609,1036.1 1610,1036.3 1611,1036.5 1612,1036.7 1613,1036.9 1614,1037.1 1615,1037.3 1616,1037.5 1617,1037.7 1618,1037.9 1619,1038.0 1620,1038.2 1621,1038.4 1622,1038.6 1623,1038.8 1624,1039.0 1625,1039.1 1626,1039.3 1627,1039.5 1628,1039.7 1629,1039.8 1630,1040.0 1631,1040.2 1632,1040.4 1633,1040.5 1634,1040.7 1635,1040.9 1636,1041.0 1637,1041.2 1638,1041.4 1639,1041.5 1640,1041.7 1641,1041.8 1642,1042.0 1643,1042.2 1644,1042.3 1645,1042.5 1646,1042.6 1647,1042.8 1648,1042.9 1649,1043.1 1650,1043.3 1651,1043.4 1652,1043.6 1653,1043.7 1654,1043.9 1655,1044.0 1656,1044.2 1657,1044.3 1658,1044.4 1659,1044.6 1660,1044.7 1661,1044.9 1662,1045.0 1663,1045.2 1664,1045.3 1665,1045.4 1666,1045.6 1667,1045.7 1668,1045.9 1669,1046.0 1670,1046.1 1671,1046.3 1672,1046.4 1673,1046.5 1674,1046.7 1675,1046.8 1676,1046.9 1677,1047.1 1678,1047.2 1679,1047.3 1680,1047.4 1681,1047.6 1682,1047.7 1683,1047.8 1684,1047.9 1685,1048.1 1686,1048.2 1687,1048.3 1688,1048.4 1689,1048.5 1690,1048.7 1691,1048.8 1692,1048.9 1693,1049.0 1694,1049.1 1695,1049.2 1696,1049.3 1697,1049.5 1698,1049.6 1699,1049.7 1700,1049.8 1701,1049.9 1702,1050.0 1703,1050.1 1704,1050.2 1705,1050.3 1706,1050.4 1707,1050.5 1708,1050.7 1709,1050.8 1710,1050.9 1711,1051.0 1712,1051.1 1713,1051.2 1714,1051.3 1715,1051.4 1716,1051.5 1717,1051.6 1718,1051.7 1719,1051.8 1720,1051.9 1721,1052.0 1722,1052.1 1723,1052.1 1724,1052.2 1725,1052.3 1726,1052.4 1727,1052.5 1728,1052.6 1729,1052.7 1730,1052.8 1731,1052.9 1732,1053.0 1733,1053.1 1734,1053.2 1735,1053.2 1736,1053.3 1737,1053.4 1738,1053.5 1739,1053.6 1740,1053.7 1741,1053.8 1742,1053.8 1743,1053.9 1744,1054.0 1745,1054.1 1746,1054.2 1747,1054.3 1748,1054.3 1749,1054.4 1750,1054.5 1751,1054.6 1752,1054.7 1753,1054.7 1754,1054.8 1755,1054.9 1756,1055.0 1757,1055.1 1758,1055.1 1759,1055.2 1760,1055.3 1761,1055.4 1762,1055.4 1763,1055.5 1764,1055.6 1765,1055.7 1766,1055.7 1767,1055.8 1768,1055.9 1769,1055.9 1770,1056.0 1771,1056.1 1772,1056.2 1773,1056.2 1774,1056.3 1775,1056.4 1776,1056.4 1777,1056.5 1778,1056.6 1779,1056.6 1780,1056.7 1781,1056.8 1782,1056.9 1783,1056.9 1784,1057.0 1785,1057.1 1786,1057.1 1787,1057.2 1788,1057.2 1789,1057.3 1790,1057.4 1791,1057.4 1792,1057.5 1793,1057.6 1794,1057.6 1795,1057.7 1796,1057.8 1797,1057.8 1798,1057.9 1799,1058.0 1800,1058.0 1801,1058.1 1802,1058.1 1803,1058.2 1804,1058.3 1805,1058.3 1806,1058.4 1807,1058.5 1808,1058.5 1809,1058.6 1810,1058.6 1811,1058.7 1812,1058.8 1813,1058.8 1814,1058.9 1815,1058.9 1816,1059.0 1817,1059.0 1818,1059.1 1819,1059.2 1820,1059.2 1821,1059.3 1822,1059.3 1823,1059.4 1824,1059.4 1825,1059.5 1826,1059.6 1827,1059.6 1828,1059.7 1829,1059.7 1830,1059.8 1831,1059.8 1832,1059.9 1833,1059.9 1834,1060.0 1835,1060.0 1836,1060.1 1837,1060.2 1838,1060.2 1839,1060.3 1840,1060.3 1841,1060.4 1842,1060.4 1843,1060.5 1844,1060.5 1845,1060.6 1846,1060.6 1847,1060.7 1848,1060.7 1849,1060.8 1850,1060.8 1851,1060.9 1852,1060.9 1853,1061.0 1854,1061.0 1855,1061.1 1856,1061.1 1857,1061.2 1858,1061.2 1859,1061.3 1860,1061.3 1861,1061.4 1862,1061.4 1863,1061.4 1864,1061.5 1865,1061.5 1866,1061.6 1867,1061.6 1868,1061.7 1869,1061.7 1870,1061.8 1871,1061.8 1872,1061.9 1873,1061.9 1874,1061.9 1875,1062.0 1876,1062.0 1877,1062.1 1878,1062.1 1879,1062.2 1880,1062.2 1881,1062.2 1882,1062.3 1883,1062.3 1884,1062.4 1885,1062.4 1886,1062.4 1887,1062.5 1888,1062.5 1889,1062.6 1890,1062.6 1891,1062.6 1892,1062.7 1893,1062.7 1894,1062.8 1895,1062.8 1896,1062.8 1897,1062.9 1898,1062.9 1899,1062.9 1900,1063.0 1901,1063.0 1902,1063.1 1903,1063.1 1904,1063.1 1905,1063.2 1906,1063.2 1907,1063.2 1908,1063.3 1909,1063.3 1910,1063.3 1911,1063.4 1912,1063.4 1913,1063.4 1914,1063.5 1915,1063.5 1916,1063.5 1917,1063.6 1918,1063.6 1919,1063.6 1920,1063.7 1921,1063.7 1922,1063.7 1923,1063.8 1924,1063.8 1925,1063.8 1926,1063.8 1927,1063.9 1928,1063.9 1929,1063.9 1930,1064.0 1931,1064.0 1932,1064.0 1933,1064.0 1934,1064.1 1935,1064.1 1936,1064.1 1937,1064.2 1938,1064.2 1939,1064.2 1940,1064.2 1941,1064.3 1942,1064.3 1943,1064.3 1944,1064.3 1945,1064.4 1946,1064.4 1947,1064.4 1948,1064.4 1949,1064.5 1950,1064.5 1951,1064.5 1952,1064.5 1953,1064.6 1954,1064.6 1955,1064.6 1956,1064.6 1957,1064.7 1958,1064.7 1959,1064.7 1960,1064.7 1961,1064.7 1962,1064.8 1963,1064.8 1964,1064.8 1965,1064.8 1966,1064.8 1967,1064.9 1968,1064.9 1969,1064.9 1970,1064.9 1971,1064.9 1972,1065.0 1973,1065.0 1974,1065.0 1975,1065.0 1976,1065.0 1977,1065.0 1978,1065.1 1979,1065.1 1980,1065.1 1981,1065.1 1982,1065.1 1983,1065.1 1984,1065.2 1985,1065.2 1986,1065.2 1987,1065.2 1988,1065.2 1989,1065.2 1990,1065.3 1991,1065.3 1992,1065.3 1993,1065.3 1994,1065.3 1995,1065.3 1996,1065.3 1997,1065.3 1998,1065.4 1999,1065.4 2000,1065.4 2001,1065.4 2002,1065.4 2003,1065.4 2004,1065.4 2005,1065.4 2006,1065.5 2007,1065.5 2008,1065.5 2009,1065.5 2010,1065.5 2011,1065.5 2012,1065.5 2013,1065.5 2014,1065.5 2015,1065.5 2016,1065.5 2017,1065.5 2018,1065.6 2019,1065.6 2020,1065.6"/>
<polyline stroke="#00ff00" points="264,1471.8 265,1469.6 266,1467.3 267,1465.0 268,1462.8 269,1460.5 270,1458.3 271,1456.0 272,1453.8 273,1451.5 274,1449.2 275,1447.0 276,1444.7 277,1442.5 278,1440.2 279,1438.0 280,1435.7 281,1433.4 282,1431.2 283,1428.9 284,1426.7 285,1424.4 286,1422.2 287,1419.9 288,1417.7 289,1415.4 290,1413.2 291,1410.9 292,1408.7 293,1406.4 294,1404.2 295,1401.9 296,1399.7 297,1397.4 298,1395.2 299,1392.9 300,1390.7 301,1388.4 302,1386.2 303,1383.9 304,1381.7 305,1379.5 306,1377.2 307,1375.0 308,1372.7 309,1370.5 310,1368.2 311,1366.0 312,1363.7 313,1361.5 314,1359.3 315,1357.0 316,1354.8 317,1352.5 318,1350.3 319,1348.0 320,1345.8 321,1343.6 322,1341.3 323,1339.1 324,1336.8 325,1334.6 326,1332.4 327,1330.1 328,1327.9 329,1325.6 330,1323.4 331,1321.2 332,1318.9 333,1316.7 334,1314.5 335,1312.2 336,1310.0 337,1307.8 338,1305.5 339,1303.3 340,1301.0 341,1298.8 342,1296.6 343,1294.3 344,1292.1 345,1289.9 346,1287.6 347,1285.4 348,1283.2 349,1280.9 350,1278.7 351,1276.5 352,1274.2 353,1272.0 354,1269.8 355,1267.5 356,1265.3 357,1263.1 358,1260.9 359,1258.6 360,1256.4 361,1254.2 362,1251.9 363,1249.7 364,1247.5 365,1245.2 366,1243.0 367,1240.8 368,1238.6 369,1236.3 370,1234.1 371,1231.9 372,1229.6 373,1227.4 374,1225.2 375,1223.0 376,1220.7 377,1218.5 378,1216.3 379,1214.1 380,1211.8 381,1209.6 382,1207.4 383,1205.2 384,1202.9 385,1200.7 386,1198.5 387,1196.3 388,1194.0 389,1191.8 390,1189.6 391,1187.4 392,1185.1 393,1182.9 394,1180.7 395,1178.5 396,1176.2 397,1174.0 398,1171.8 399,1169.6 400,1167.4 401,1165.1 402,1162.9 403,1160.7 404,1158.5 405,1156.2 406,1154.0 407,1151.8 408,1149.6 409,1147.4 410,1145.1 411,1142.9 412,1140.7 413,1138.5 414,1136.3 415,1134.0 416,1131.8 417,1129.6 418,1127.4 419,1125.2 420,1122.9 421,1120.7 422,1118.5 423,1116.3 424,1114.1 425,1111.8 426,1109.6 427,1107.4 428,1105.2 429,1103.0 430,1100.8 431,1098.5 432,1096.3 433,1094.1 434,1091.9 435,1089.7 436,1087.4 437,1085.2 438,1083.0 439,1080.8 440,1078.6 441,1076.4 442,1074.1 443,1071.9 444,1069.7 445,1067.5 446,1065.3 447,1063.1 448,1060.8 449,1058.6 450,1056.4 451,1054.2 452,1052.0 453,1049.8 454,1047.5 455,1045.3 456,1043.1 457,1040.9 458,1038.7 459,1036.5 460,1034.2 461,1032.0 462,1029.8 463,1027.6 464,1025.4 465,1023.2 466,1020.9 467,1018.7 468,1016.5 469,1014.3 470,1012.1 471,1009.9 472,1007.7 473,1005.4 474,1003.2 475,1001.0 476,998.8 477,996.6 478,994.4 479,992.1 480,989.9 481,987.7 482,985.5 483,983.3 484,981.1 485,978.9 486,976.6 487,974.4 488,972.2 489,970.0 490,967.8 491,965.6 492,963.3 493,961.1 494,958.9 495,956.7 496,954.5 497,952.3 498,950.0 499,947.8 500,945.6 501,943.4 502,941.2 503,939.0 504,936.8 505,934.5 506,932.3 507,930.1 508,927.9 509,925.7 510,923.5 511,921.2 512,919.0 513,916.8 514,914.6 515,912.4 516,910.2 517,907.9 518,905.7 519,903.5 520,901.3 521,899.1 522,896.9 523,894.6 524,892.4 525,890.2 526,888.0 527,885.8 528,883.6 529,881.3 530,879.1 531,876.9 532,874.7 533,872.5 534,870.3 535,868.0 536,865.8 537,863.6 538,861.4 539,859.2 540,856.9 541,854.7 542,852.5 543,850.3 544,848.1 545,845.9 546,843.6 547,841.4 548,839.2 549,837.0 550,834.8 551,832.5 552,830.3 553,828.1 554,825.9 555,823.7 556,821.4 557,819.2 558,817.0 559,814.8 560,812.6 561,810.3 562,808.1 563,805.9 564,803.7 565,801.4 566,799.2 567,797.0 568,794.8 569,792.6 570,790.3 571,788.1 572,785.9 573,783.7 574,781.5 575,779.2 576,777.0 577,774.8 578,772.6 579,770.3 580,768.1 581,765.9 582,763.7 583,761.4 584,759.2 585,757.0 586,754.8 587,752.5 588,750.3 589,748.1 590,745.9 591,743.6 592,741.4 593,739.2 594,737.0 595,734.7 596,732.5 597,730.3 598,728.0 599,725.8 600,723.6 601,721.4 602,719.1 603,716.9 604,714.7 605,712.5 606,710.2 607,708.0 608,705.8 609,703.5 610,701.3 611,699.1 612,696.8 613,694.6 614,692.4 615,690.1 616,687.9 617,685.7 618,683.5 619,681.2 620,679.0 621,676.8 622,674.5 623,672.3 624,670.1 625,667.8 626,665.6 627,663.4 628,661.1 629,658.9 630,656.7 631,654.4 632,652.2 633,649.9 634,647.7 635,645.5 636,643.2 637,641.0 638,638.8 639,636.5 640,634.3 641,632.0 642,629.8 643,627.6 644,625.3 645,623.1 646,620.9 647,618.6 648,616.4 649,614.1 650,611.9 651,609.6 652,607.4 653,605.2 654,602.9 655,600.7 656,598.4 657,596.2 658,594.0 659,591.7 660,589.5 661,587.2 662,585.0 663,582.7 664,580.5 665,578.2 666,576.0 667,573.7 668,571.5 669,569.3 670,567.0 671,564.8 672,562.5 673,560.3 674,558.0 675,555.8 676,553.5 677,551.3 678,549.0 679,546.8 680,544.5 681,542.3 682,540.0 683,537.8 684,535.5 685,533.3 686,531.0 687,528.7 688,526.5 689,524.2 690,522.0 691,519.7 692,517.5 693,515.2 694,513.0 695,510.7 696,508.4 697,506.2 698,503.9 699,501.7 700,499.4 701,497.2 702,494.9 703,492.6 704,490.4 705,488.1 706,485.9 707,483.6 708,481.3 709,479.1 710,476.8 711,474.5 712,472.3 713,470.0 714,467.8 715,465.5 716,463.2 717,461.0 718,458.7 719,456.4 720,454.2 721,451.9 722,449.6 723,447.4 724,445.1 725,442.8 726,440.6 727,438.3 728,436.0 729,433.8 730,431.5 731,429.2 732,427.0 733,424.7 734,422.4 735,420.2 736,417.9 737,415.6 738,413.4 739,411.1 740,408.9 741,406.6 742,404.4 743,402.1 744,399.8 745,397.6 746,395.3 747,393.1 748,390.8 749,388.6 750,386.4 751,384.1 752,381.9 753,379.6 754,377.4 755,375.2 756,372.9 757,370.7 758,368.5 759,366.3 760,364.0 761,361.8 762,359.6 763,357.4 764,355.2 765,353.0 766,350.8 767,348.6 768,346.4 769,344.2 770,342.0 771,339.8 772,337.6 773,335.4 774,333.2 775,331.0 776,328.9 777,326.7 778,324.5 779,322.4 780,320.2 781,318.1 782,315.9 783,313.8 784,311.6 785,309.5 786,307.3 787,305.2 788,303.1 789,301.0 790,298.9 791,296.7 792,294.6 793,292.5 794,290.4 795,288.4 796,286.3 797,284.2 798,282.1 799,280.0 800,278.0 801,275.9 802,273.9 803,271.8 804,269.8 805,267.7 806,265.7 807,263.7 808,261.6 809,259.6 810,257.6 811,255.6 812,253.6 813,251.6 814,249.6 815,247.7 816,245.7 817,243.7 818,241.8 819,239.8 820,237.9 821,235.9 822,234.0 823,232.1 824,230.2 825,228.3 826,226.4 827,224.6 828,222.7 829,220.9 830,219.0 831,217.2 832,215.4 833,213.6 834,211.9 835,210.1 836,208.4 837,206.6 838,204.9 839,203.2 840,201.6 841,199.9 842,198.3 843,196.6 844,195.0 845,193.4 846,191.9 847,190.3 848,188.8 849,187.3 850,185.8 851,184.3 852,182.9 853,181.5 854,180.1 855,178.7 856,177.4 857,176.0 858,174.7 859,173.5 860,172.2 861,171.0 862,169.9 863,168.7 864,167.6 865,166.5 866,165.4 867,164.4 868,163.4 869,162.4 870,161.5 871,160.6 872,159.7 873,158.8 874,158.0 875,157.2 876,156.4 877,155.6 878,154.9 879,154.2 880,153.5 881,152.9 882,152.3 883,151.7 884,151.1 885,150.5 886,150.0 887,149.5 888,149.0 889,148.6 890,148.1 891,147.7 892,147.3 893,147.0 894,146.6 895,146.3 896,146.0 897,145.7 898,145.4 899,145.1 900,144.9 901,144.7 902,144.5 903,144.3 904,144.2 905,144.0 906,143.9 907,143.8 908,143.7 909,143.7 910,143.6 911,143.6 912,143.6 913,143.6 914,143.6 915,143.7 916,143.7 917,143.8 918,143.9 919,144.1 920,144.2 921,144.3 922,144.5 923,144.7 924,144.9 925,145.2 926,145.4 927,145.7 928,146.0 929,146.3 930,146.6 931,147.0 932,147.3 933,147.7 934,148.1 935,148.6 936,149.0 937,149.5 938,150.0 939,150.5 940,151.0 941,151.5 942,152.1 943,152.7 944,153.3 945,153.9 946,154.6 947,155.2 948,155.9 949,156.6 950,157.3 951,158.0 952,158.8 953,159.6 954,160.4 955,161.2 956,162.0 957,162.9 958,163.8 959,164.7 960,165.6 961,166.5 962,167.5 963,168.5 964,169.5 965,170.5 966,171.5 967,172.6 968,173.7 969,174.8 970,175.9 971,177.0 972,178.2 973,179.4 974,180.6 975,181.8 976,183.1 977,184.3 978,185.6 979,186.9 980,188.2 981,189.6 982,190.9 983,192.3 984,193.7 985,195.2 986,196.6 987,198.1 988,199.6 989,201.1 990,202.6 991,204.1 992,205.7 993,207.3 994,208.9 995,210.5 996,212.2 997,213.9 998,215.6 999,217.3 1000,219.0 1001,220.8 1002,222.6 1003,224.4 1004,226.2 1005,228.1 1006,230.0 1007,231.9 1008,233.8 1009,235.8 1010,237.7 1011,239.7 1012,241.7 1013,243.7 1014,245.8 1015,247.8 1016,249.9 1017,252.0 1018,254.1 1019,256.2 1020,258.3 1021,260.5 1022,262.6 1023,264.8 1024,266.9 1025,269.1 1026,271.3 1027,273.5 1028,275.6 1029,277.8 1030,280.0 1031,282.2 1032,284.4 1033,286.6 1034,288.8 1035,291.0 1036,293.2 1037,295.4 1038,297.6 1039,299.8 1040,302.0 1041,304.2 1042,306.4 1043,308.6 1044,310.8 1045,313.1 1046,315.3 1047,317.5 1048,319.8 1049,322.0 1050,324.3 1051,326.5 1052,328.8 1053,331.1 1054,333.4 1055,335.7 1056,338.0 1057,340.3 1058,342.7 1059,345.0 1060,347.4 1061,349.8 1062,352.1 1063,354.5 1064,356.9 1065,359.3 1066,361.8 1067,364.2 1068,366.6 1069,369.1 1070,371.5 1071,374.0 1072,376.4 1073,378.9 1074,381.4 1075,383.9 1076,386.4 1077,388.9 1078,391.4 1079,393.9 1080,396.5 1081,399.0 1082,401.5 1083,404.1 1084,406.6 1085,409.2 1086,411.7 1087,414.3 1088,416.9 1089,419.4 1090,422.0 1091,424.6 1092,427.2 1093,429.8 1094,432.4 1095,435.0 1096,437.6 1097,440.2 1098,442.8 1099,445.4 1100,448.0 1101,450.6 1102,453.2 1103,455.8 1104,458.5 1105,461.1 1106,463.7 1107,466.3 1108,468.9 1109,471.6 1110,474.2 1111,476.8 1112,479.4 1113,482.1 1114,484.7 1115,487.4 1116,490.0 1117,492.6 1118,495.3 1119,497.9 1120,500.6 1121,503.2 1122,505.8 1123,508.5 1124,511.1 1125,513.7 1126,516.3 1127,519.0 1128,521.6 1129,524.2 1130,526.8 1131,529.4 1132,532.0 1133,534.6 1134,537.2 1135,539.8 1136,542.4 1137,544.9 1138,547.5 1139,550.1 1140,552.6 1141,555.2 1142,557.8 1143,560.3 1144,562.8 1145,565.4 1146,567.9 1147,570.4 1148,572.9 1149,575.4 1150,577.9 1151,580.4 1152,582.9 1153,585.3 1154,587.8 1155,590.3 1156,592.7 1157,595.1 1158,597.6 1159,600.0 1160,602.4 1161,604.8 1162,607.2 1163,609.5 1164,611.9 1165,614.3 1166,616.6 1167,619.0 1168,621.3 1169,623.6 1170,625.9 1171,628.2 1172,630.5 1173,632.8 1174,635.1 1175,637.4 1176,639.6 1177,641.9 1178,644.1 1179,646.4 1180,648.6 1181,650.8 1182,653.0 1183,655.2 1184,657.4 1185,659.6 1186,661.7 1187,663.9 1188,666.0 1189,668.2 1190,670.3 1191,672.4 1192,674.6 1193,676.7 1194,678.8 1195,680.9 1196,682.9 1197,685.0 1198,687.1 1199,689.1 1200,691.2 1201,693.2 1202,695.3 1203,697.3 1204,699.3 1205,701.3 1206,703.3 1207,705.3 1208,707.3 1209,709.2 1210,711.2 1211,713.1 1212,715.1 1213,717.0 1214,719.0 1215,720.9 1216,722.8 1217,724.7 1218,726.6 1219,728.5 1220,730.3 1221,732.2 1222,734.1 1223,735.9 1224,737.8 1225,739.6 1226,741.4 1227,743.3 1228,745.1 1229,746.9 1230,748.7 1231,750.5 1232,752.2 1233,754.0 1234,755.8 1235,757.5 1236,759.3 1237,761.0 1238,762.8 1239,764.5 1240,766.2 1241,767.9 1242,769.6 1243,771.3 1244,773.0 1245,774.7 1246,776.3 1247,778.0 1248,779.6 1249,781.3 1250,782.9 1251,784.6 1252,786.2 1253,787.8 1254,789.4 1255,791.0 1256,792.6 1257,794.2 1258,795.8 1259,797.3 1260,798.9 1261,800.4 1262,802.0 1263,803.5 1264,805.1 1265,806.6 1266,808.1 1267,809.6 1268,811.1 1269,812.6 1270,814.1 1271,815.6 1272,817.0 1273,818.5 1274,820.0 1275,821.4 1276,822.9 1277,824.3 1278,825.7 1279,827.1 1280,828.6 1281,830.0 1282,831.4 1283,832.8 1284,834.1 1285,835.5 1286,836.9 1287,838.3 1288,839.6 1289,841.0 1290,842.3 1291,843.7 1292,845.0 1293,846.3 1294,847.6 1295,849.0 1296,850.3 1297,851.6 1298,852.9 1299,854.1 1300,855.4 1301,856.7 1302,858.0 1303,859.2 1304,860.5 1305,861.7 1306,863.0 1307,864.2 1308,865.4 1309,866.6 1310,867.8 1311,869.0 1312,870.2 1313,871.4 1314,872.6 1315,873.8 1316,875.0 1317,876.1 1318,877.3 1319,878.4 1320,879.6 1321,880.7 1322,881.9 1323,883.0 1324,884.1 1325,885.2 1326,886.3 1327,887.4 1328,888.5 1329,889.6 1330,890.7 1331,891.8 1332,892.8 1333,893.9 1334,895.0 1335,896.0 1336,897.1 1337,898.1 1338,899.1 1339,900.2 1340,901.2 1341,902.2 1342,903.2 1343,904.2 1344,905.2 1345,906.2 1346,907.2 1347,908.2 1348,909.1 1349,910.1 1350,911.1 1351,912.0 1352,913.0 1353,913.9 1354,914.8 1355,915.8 1356,916.7 1357,917.6 1358,918.5 1359,919.5 1360,920.4 1361,921.3 1362,922.1 1363,923.0 1364,923.9 1365,924.8 1366,925.7 1367,926.5 1368,927.4 1369,928.2 1370,929.1 1371,929.9 1372,930.8 1373,931.6 1374,932.4 1375,933.3 1376,934.1 1377,934.9 1378,935.7 1379,936.5 1380,937.3 1381,938.1 1382,938.9 1383,939.7 1384,940.4 1385,941.2 1386,942.0 1387,942.7 1388,943.5 1389,944.2 1390,945.0 1391,945.7 1392,946.5 1393,947.2 1394,947.9 1395,948.7 1396,949.4 1397,950.1 1398,950.8 1399,951.5 1400,952.2 1401,952.9 1402,953.6 1403,954.3 1404,955.0 1405,955.6 1406,956.3 1407,957.0 1408,957.6 1409,958.3 1410,959.0 1411,959.6 1412,960.3 1413,960.9 1414,961.5 1415,962.2 1416,962.8 1417,963.4 1418,964.1 1419,964.7 1420,965.3 1421,965.9 1422,966.5 1423,967.1 1424,967.7 1425,968.3 1426,968.9 1427,969.5 1428,970.1 1429,970.6 1430,971.2 1431,971.8 1432,972.4 1433,972.9 1434,973.5 1435,974.0 1436,974.6 1437,975.1 1438,975.7 1439,976.2 1440,976.8 1441,977.3 1442,977.8 1443,978.4 1444,978.9 1445,979.4 1446,979.9 1447,980.4 1448,980.9 1449,981.4 1450,981.9 1451,982.4 1452,982.9 1453,983.4 1454,983.9 1455,984.4 1456,984.9 1457,985.4 1458,985.9 1459,986.3 1460,986.8 1461,987.3 1462,987.7 1463,988.2 1464,988.7 1465,989.1 1466,989.6 1467,990.0 1468,990.5 1469,990.9 1470,991.3 1471,991.8 1472,992.2 1473,992.7 1474,993.1 1475,993.5 1476,993.9 1477,994.4 1478,994.8 1479,995.2 1480,995.6 1481,996.0 1482,996.4 1483,996.8 1484,997.2 1485,997.6 1486,998.0 1487,998.4 1488,998.8 1489,999.2 1490,999.6 1491,1000.0 1492,1000.4 1493,1000.8 1494,1001.1 1495,1001.5 1496,1001.9 1497,1002.3 1498,1002.6 1499,1003.0 1500,1003.4 1501,1003.7 1502,1004.1 1503,1004.5 1504,1004.8 1505,1005.2 1506,1005.5 1507,1005.9 1508,1006.2 1509,1006.6 1510,1006.9 1511,1007.3 1512,1007.6 1513,1008.0 1514,1008.3 1515,1008.6 1516,1009.0 1517,1009.3 1518,1009.6 1519,1010.0 1520,1010.3 1521,1010.6 1522,1011.0 1523,1011.3 1524,1011.6 1525,1011.9 1526,1012.2 1527,1012.6 1528,1012.9 1529,1013.2 1530,1013.5 1531,1013.8 1532,1014.1 1533,1014.4 1534,1014.7 1535,1015.0 1536,1015.3 1537,1015.6 1538,1015.9 1539,1016.2 1540,1016.5 1541,1016.8 1542,1017.1 1543,1017.4 1544,1017.7 1545,1018.0 1546,1018.3 1547,1018.6 1548,1018.9 1549,1019.1 1550,1019.4 1551,1019.7 1552,1020.0 1553,1020.3 1554,1020.5 1555,1020.8 1556,1021.1 1557,1021.4 1558,1021.6 1559,1021.9 1560,1022.2 1561,1022.4 1562,1022.7 1563,1023.0 1564,1023.2 1565,1023.5 1566,1023.7 1567,1024.0 1568,1024.3 1569,1024.5 1570,1024.8 1571,1025.0 1572,1025.3 1573,1025.5 1574,1025.8 1575,1026.0 1576,1026.3 1577,1026.5 1578,1026.7 1579,1027.0 1580,1027.2 1581,1027.5 1582,1027.7 1583,1027.9 1584,1028.2 1585,1028.4 1586,1028.6 1587,1028.9 1588,1029.1 1589,1029.3 1590,1029.5 1591,1029.8 1592,1030.0 1593,1030.2 1594,1030.4 1595,1030.6 1596,1030.9 1597,1031.1 1598,1031.3 1599,1031.5 1600,1031.7 1601,1031.9 1602,1032.1 1603,1032.4 1604,1032.6 1605,1032.8 1606,1033.0 1607,1033.2 1608,1033.4 1609,1033.6 1610,1033.8 1611,1034.0 1612,1034.2 1613,1034.4 1614,1034.6 1615,1034.8 1616,1035.0 1617,1035.2 1618,1035.3 1619,1035.5 1620,1035.7 1621,1035.9 1622,1036.1 1623,1036.3 1624,1036.5 1625,1036.7 1626,1036.8 1627,1037.0 1628,1037.2 1629,1037.4 1630,1037.6 1631,1037.7 1632,1037.9 1633,1038.1 1634,1038.3 1635,1038.4 1636,1038.6 1637,1038.8 1638,1038.9 1639,1039.1 1640,1039.3 1641,1039.4 1642,1039.6 1643,1039.8 1644,1039.9 1645,1040.1 1646,1040.3 1647,1040.4 1648,1040.6 1649,1040.7 1650,1040.9 1651,1041.0 1652,1041.2 1653,1041.4 1654,1041.5 1655,1041.7 1656,1041.8 1657,1042.0 1658,1042.1 1659,1042.3 1660,1042.4 1661,1042.6 1662,1042.7 1663,1042.8 1664,1043.0 1665,1043.1 1666,1043.3 1667,1043.4 1668,1043.6 1669,1043.7 1670,1043.8 1671,1044.0 1672,1044.1 1673,1044.2 1674,1044.4 1675,1044.5 1676,1044.6 1677,1044.8 1678,1044.9 1679,1045.0 1680,1045.2 1681,1045.3 1682,1045.4 1683,1045.5 1684,1045.7 1685,1045.8 1686,1045.9 1687,1046.0 1688,1046.2 1689,1046.3 1690,1046.4 1691,1046.5 1692,1046.7 1693,1046.8 1694,1046.9 1695,1047.0 1696,1047.1 1697,1047.2 1698,1047.4 1699,1047.5 1700,1047.6 1701,1047.7 1702,1047.8 1703,1047.9 1704,1048.0 1705,1048.1 1706,1048.2 1707,1048.4 1708,1048.5 1709,1048.6 1710,1048.7 1711,1048.8 1712,1048.9 1713,1049.0 1714,1049.1 1715,1049.2 1716,1049.3 1717,1049.4 1718,1049.5 1719,1049.6 1720,1049.7 1721,1049.8 1722,1049.9 1723,1050.0 1724,1050.1 1725,1050.2 1726,1050.3 1727,1050.4 1728,1050.5 1729,1050.6 1730,1050.7 1731,1050.8 1732,1050.9 1733,1050.9 1734,1051.0 1735,1051.1 1736,1051.2 1737,1051.3 1738,1051.4 1739,1051.5 1740,1051.6 1741,1051.7 1742,1051.7 1743,1051.8 1744,1051.9 1745,1052.0 1746,1052.1 1747,1052.2 1748,1052.3 1749,1052.3 1750,1052.4 1751,1052.5 1752,1052.6 1753,1052.7 1754,1052.7 1755,1052.8 1756,1052.9 1757,1053.0 1758,1053.1 1759,1053.1 1760,1053.2 1761,1053.3 1762,1053.4 1763,1053.4 1764,1053.5 1765,1053.6 1766,1053.7 1767,1053.8 1768,1053.8 1769,1053.9 1770,1054.0 1771,1054.0 1772,1054.1 1773,1054.2 1774,1054.3 1775,1054.3 1776,1054.4 1777,1054.5 1778,1054.5 1779,1054.6 1780,1054.7 1781,1054.8 1782,1054.8 1783,1054.9 1784,1055.0 1785,1055.0 1786,1055.1 1787,1055.2 1788,1055.2 1789,1055.3 1790,1055.4 1791,1055.4 1792,1055.5 1793,1055.6 1794,1055.6 1795,1055.7 1796,1055.8 1797,1055.8 1798,1055.9 1799,1056.0 1800,1056.0 1801,1056.1 1802,1056.2 1803,1056.2 1804,1056.3 1805,1056.3 1806,1056.4 1807,1056.5 1808,1056.5 1809,1056.6 1810,1056.7 1811,1056.7 1812,1056.8 1813,1056.8 1814,1056.9 1815,1057.0 1816,1057.0 1817,1057.1 1818,1057.1 1819,1057.2 1820,1057.3 1821,1057.3 1822,1057.4 1823,1057.4 1824,1057.5 1825,1057.5 1826,1057.6 1827,1057.7 1828,1057.7 1829,1057.8 1830,1057.8 1831,1057.9 1832,1057.9 1833,1058.0 1834,1058.1 1835,1058.1 1836,1058.2 1837,1058.2 1838,1058.3 1839,1058.3 1840,1058.4 1841,1058.4 1842,1058.5 1843,1058.5 1844,1058.6 1845,1058.6 1846,1058.7 1847,1058.7 1848,1058.8 1849,1058.8 1850,1058.9 1851,1059.0 1852,1059.0 1853,1059.1 1854,1059.1 1855,1059.2 1856,1059.2 1857,1059.2 1858,1059.3 1859,1059.3 1860,1059.4 1861,1059.4 1862,1059.5 1863,1059.5 1864,1059.6 1865,1059.6 1866,1059.7 1867,1059.7 1868,1059.8 1869,1059.8 1870,1059.9 1871,1059.9 1872,1060.0 1873,1060.0 1874,1060.0 1875,1060.1 1876,1060.1 1877,1060.2 1878,1060.2 1879,1060.3 1880,1060.3 1881,1060.3 1882,1060.4 1883,1060.4 1884,1060.5 1885,1060.5 1886,1060.6 1887,1060.6 1888,1060.6 1889,1060.7 1890,1060.7 1891,1060.8 1892,1060.8 1893,1060.8 1894,1060.9 1895,1060.9 1896,1061.0 1897,1061.0 1898,1061.0 1899,1061.1 1900,1061.1 1901,1061.1 1902,1061.2 1903,1061.2 1904,1061.3 1905,1061.3 1906,1061.3 1907,1061.4 1908,1061.4 1909,1061.4 1910,1061.5 1911,1061.5 1912,1061.5 1913,1061.6 1914,1061.6 1915,1061.6 1916,1061.7 1917,1061.7 1918,1061.7 1919,1061.8 1920,1061.8 1921,1061.8 1922,1061.9 1923,1061.9 1924,1061.9 1925,1062.0 1926,1062.0 1927,1062.0 1928,1062.1 1929,1062.1 1930,1062.1 1931,1062.2 1932,1062.2 1933,1062.2 1934,1062.2 1935,1062.3 1936,1062.3 1937,1062.3 1938,1062.4 1939,1062.4 1940,1062.4 1941,1062.4 1942,1062.5 1943,1062.5 1944,1062.5 1945,1062.5 1946,1062.6 1947,1062.6 1948,1062.6 1949,1062.6 1950,1062.7 1951,1062.7 1952,1062.7 1953,1062.7 1954,1062.8 1955,1062.8 1956,1062.8 1957,1062.8 1958,1062.9 1959,1062.9 1960,1062.9 1961,1062.9 1962,1062.9 1963,1063.0 1964,1063.0 1965,1063.0 1966,1063.0 1967,1063.1 1968,1063.1 1969,1063.1 1970,1063.1 1971,1063.1 1972,1063.2 1973,1063.2 1974,1063.2 1975,1063.2 1976,1063.2 1977,1063.2 1978,1063.3 1979,1063.3 1980,1063.3 1981,1063.3 1982,1063.3 1983,1063.4 1984,1063.4 1985,1063.4 1986,1063.4 1987,1063.4 1988,1063.4 1989,1063.4 1990,1063.5 1991,1063.5 1992,1063.5 1993,1063.5 1994,1063.5 1995,1063.5 1996,1063.5 1997,1063.6 1998,1063.6 1999,1063.6 2000,1063.6 2001,1063.6 2002,1063.6 2003,1063.6 2004,1063.6 2005,1063.7 2006,1063.7 2007,1063.7 2008,1063.7 2009,1063.7 2010,1063.7 2011,1063.7 2012,1063.7 2013,1063.7 2014,1063.7 2015,1063.8 2016,1063.8 2017,1063.8 2018,1063.8 2019,1063.8 2020,1063.8"/>
<polyline stroke="#0000ff" points="264,1471.8 265,1469.6 266,1467.3 267,1465.0 268,1462.8 269,1460.5 270,1458.3 271,1456.0 272,1453.8 273,1451.5 274,1449.2 275,1447.0 276,1444.7 277,1442.5 278,1440.2 279,1438.0 280,1435.7 281,1433.4 282,1431.2 283,1428.9 284,1426.7 285,1424.4 286,1422.2 287,1419.9 288,1417.7 289,1415.4 290,1413.2 291,1410.9 292,1408.7 293,1406.4 294,1404.2 295,1401.9 296,1399.7 297,1397.4 298,1395.2 299,1392.9 300,1390.7 301,1388.4 302,1386.2 303,1383.9 304,1381.7 305,1379.5 306,1377.2 307,1375.0 308,1372.7 309,1370.5 310,1368.2 311,1366.0 312,1363.7 313,1361.5 314,1359.3 315,1357.0 316,1354.8 317,1352.5 318,1350.3 319,1348.0 320,1345.8 321,1343.6 322,1341.3 323,1339.1 324,1336.8 325,1334.6 326,1332.4 327,1330.1 328,1327.9 329,1325.6 330,1323.4 331,1321.2 332,1318.9 333,1316.7 334,1314.5 335,1312.2 336,1310.0 337,1307.8 338,1305.5 339,1303.3 340,1301.0 341,1298.8 342,1296.6 343,1294.3 344,1292.1 345,1289.9 346,1287.6 347,1285.4 348,1283.2 349,1280.9 350,1278.7 351,1276.5 352,1274.2 353,1272.0 354,1269.8 355,1267.5 356,1265.3 357,1263.1 358,1260.9 359,1258.6 360,1256.4 361,1254.2 362,1251.9 363,1249.7 364,1247.5 365,1245.2 366,1243.0 367,1240.8 368,1238.6 369,1236.3 370,1234.1 371,1231.9 372,1229.6 373,1227.4 374,1225.2 375,1223.0 376,1220.7 377,1218.5 378,1216.3 379,1214.1 380,1211.8 381,1209.6 382,1207.4 383,1205.2 384,1202.9 385,1200.7 386,1198.5 387,1196.3 388,1194.0 389,1191.8 390,1189.6 391,1187.4 392,1185.1 393,1182.9 394,1180.7 395,1178.5 396,1176.2 397,1174.0 398,1171.8 399,1169.6 400,1167.4 401,1165.1 402,1162.9 403,1160.7 404,1158.5 405,1156.2 406,1154.0 407,1151.8 408,1149.6 409,1147.4 410,1145.1 411,1142.9 412,1140.7 413,1138.5 414,1136.3 415,1134.0 416,1131.8 417,1129.6 418,1127.4 419,1125.2 420,1122.9 421,1120.7 422,1118.5 423,1116.3 424,1114.1 425,1111.8 426,1109.6 427,1107.4 428,1105.2 429,1103.0 430,1100.8 431,1098.5 432,1096.3 433,1094.1 434,1091.9 435,1089.7 436,1087.4 437,1085.2 438,1083.0 439,1080.8 440,1078.6 441,1076.4 442,1074.1 443,1071.9 444,1069.7 445,1067.5 446,1065.3 447,1063.1 448,1060.8 449,1058.6 450,1056.4 451,1054.2 452,1052.0 453,1049.8 454,1047.5 455,1045.3 456,1043.1 457,1040.9 458,1038.7 459,1036.5 460,1034.2 461,1032.0 462,1029.8 463,1027.6 464,1025.4 465,1023.2 466,1020.9 467,1018.7 468,1016.5 469,1014.3 470,1012.1 471,1009.9 472,1007.7 473,1005.4 474,1003.2 475,1001.0 476,998.8 477,996.6 478,994.4 479,992.1 480,989.9 481,987.7 482,985.5 483,983.3 484,981.1 485,978.9 486,976.6 487,974.4 488,972.2 489,970.0 490,967.8 491,965.6 492,963.3 493,961.1 494,958.9 495,956.7 496,954.5 497,952.3 498,950.0 499,947.8 500,945.6 501,943.4 502,941.2 503,939.0 504,936.8 505,934.5 506,932.3 507,930.1 508,927.9 509,925.7 510,923.5 511,921.2 512,919.0 513,916.8 514,914.6 515,912.4 516,910.2 517,907.9 518,905.7 519,903.5 520,901.3 521,899.1 522,896.9 523,894.6 524,892.4 525,890.2 526,888.0 527,885.8 528,883.6 529,881.3 530,879.1 531,876.9 532,874.7 533,872.5 534,870.3 535,868.0 536,865.8 537,863.6 538,861.4 539,859.2 540,856.9 541,854.7 542,852.5 543,850.3 544,848.1 545,845.9 546,843.6 547,841.4 548,839.2 549,837.0 550,834.8 551,832.5 552,830.3 553,828.1 554,825.9 555,823.7 556,821.4 557,819.2 558,817.0 559,814.8 560,812.6 561,810.3 562,808.1 563,805.9 564,803.7 565,801.4 566,799.2 567,797.0 568,794.8 569,792.6 570,790.3 571,788.1 572,785.9 573,783.7 574,781.5 575,779.2 576,777.0 577,774.8 578,772.6 579,770.3 580,768.1 581,765.9 582,763.7 583,761.4 584,759.2 585,757.0 586,754.8 587,752.5 588,750.3 589,748.1 590,745.9 591,743.6 592,741.4 593,739.2 594,737.0 595,734.7 596,732.5 597,730.3 598,728.0 599,725.8 600,723.6 601,721.4 602,719.1 603,716.9 604,714.7 605,712.5 606,710.2 607,708.0 608,705.8 609,703.5 610,701.3 611,699.1 612,696.8 613,694.6 614,692.4 615,690.1 616,687.9 617,685.7 618,683.5 619,681.2 620,679.0 621,676.8 622,674.5 623,672.3 624,670.1 625,667.8 626,665.6 627,663.4 628,661.1 629,658.9 630,656.7 631,654.4 632,652.2 633,649.9 634,647.7 635,645.5 636,643.2 637,641.0 638,638.8 639,636.5 640,634.3 641,632.0 642,629.8 643,627.6 644,625.3 645,623.1 646,620.9 647,618.6 648,616.4 649,614.1 650,611.9 651,609.6 652,607.4 653,605.2 654,602.9 655,600.7 656,598.4 657,596.2 658,594.0 659,591.7 660,589.5 661,587.2 662,585.0 663,582.7 664,580.5 665,578.2 666,576.0 667,573.7 668,571.5 669,569.3 670,567.0 671,564.8 672,562.5 673,560.3 674,558.0 675,555.8 676,553.5 677,551.3 678,549.0 679,546.8 680,544.5 681,542.3 682,540.0 683,537.8 684,535.5 685,533.3 686,531.0 687,528.7 688,526.5 689,524.2 690,522.0 691,519.7 692,517.5 693,515.2 694,513.0 695,510.7 696,508.4 697,506.2 698,503.9 699,501.7 700,499.4 701,497.2 702,494.9 703,492.6 704,490.4 705,488.1 706,485.9 707,483.6 708,481.3 709,479.1 710,476.8 711,474.5 712,472.3 713,470.0 714,467.8 715,465.5 716,463.2 717,461.0 718,458.7 719,456.4 720,454.2 721,451.9 722,449.6 723,447.4 724,445.1 725,442.8 726,440.6 727,438.3 728,436.0 729,433.8 730,431.5 731,429.2 732,427.0 733,424.7 734,422.4 735,420.2 736,417.9 737,415.6 738,413.4 739,411.1 740,408.9 741,406.6 742,404.4 743,402.1 744,399.8 745,397.6 746,395.3 747,393.1 748,390.8 749,388.6 750,386.4 751,384.1 752,381.9 753,379.6 754,377.4 755,375.2 756,372.9 757,370.7 758,368.5 759,366.3 760,364.0 761,361.8 762,359.6 763,357.4 764,355.2 765,353.0 766,350.8 767,348.6 768,346.4 769,344.2 770,342.0 771,339.8 772,337.6 773,335.4 774,333.2 775,331.0 776,328.9 777,326.7 778,324.5 779,322.4 780,320.2 781,318.1 782,315.9 783,313.8 784,311.6 785,309.5 786,307.3 787,305.2 788,303.1 789,301.0 790,298.9 791,296.7 792,294.6 793,292.5 794,290.4 795,288.4 796,286.3 797,284.2 798,282.1 799,280.0 800,278.0 801,275.9 802,273.9 803,271.8 804,269.8 805,267.7 806,265.7 807,263.7 808,261.6 809,259.6 810,257.6 811,255.6 812,253.6 813,251.6 814,249.6 815,247.7 816,245.7 817,243.7 818,241.8 819,239.8 820,237.9 821,235.9 822,234.0 823,232.1 824,230.2 825,228.3 826,226.4 827,224.5 828,222.7 829,220.8 830,219.0 831,217.1 832,215.3 833,213.5 834,211.7 835,210.0 836,208.2 837,206.5 838,204.8 839,203.1 840,201.4 841,199.7 842,198.0 843,196.4 844,194.8 845,193.2 846,191.6 847,190.0 848,188.5 849,187.0 850,185.5 851,184.0 852,182.5 853,181.1 854,179.7 855,178.3 856,177.0 857,175.6 858,174.3 859,173.0 860,171.8 861,170.6 862,169.4 863,168.2 864,167.1 865,166.0 866,164.9 867,163.9 868,162.8 869,161.8 870,160.9 871,160.0 872,159.1 873,158.2 874,157.3 875,156.5 876,155.7 877,155.0 878,154.2 879,153.5 880,152.8 881,152.1 882,151.5 883,150.9 884,150.3 885,149.7 886,149.2 887,148.7 888,148.2 889,147.7 890,147.2 891,146.8 892,146.4 893,146.0 894,145.6 895,145.3 896,144.9 897,144.6 898,144.3 899,144.0 900,143.8 901,143.6 902,143.3 903,143.1 904,143.0 905,142.8 906,142.7 907,142.6 908,142.5 909,142.4 910,142.3 911,142.3 912,142.3 913,142.3 914,142.3 915,142.3 916,142.4 917,142.4 918,142.5 919,142.6 920,142.8 921,142.9 922,143.1 923,143.2 924,143.5 925,143.7 926,143.9 927,144.2 928,144.5 929,144.8 930,145.1 931,145.4 932,145.8 933,146.2 934,146.5 935,147.0 936,147.4 937,147.9 938,148.3 939,148.8 940,149.3 941,149.9 942,150.4 943,151.0 944,151.6 945,152.2 946,152.8 947,153.5 948,154.1 949,154.8 950,155.5 951,156.3 952,157.0 953,157.8 954,158.6 955,159.4 956,160.2 957,161.0 958,161.9 959,162.8 960,163.7 961,164.6 962,165.6 963,166.5 964,167.5 965,168.5 966,169.6 967,170.6 968,171.7 969,172.8 970,173.9 971,175.0 972,176.1 973,177.3 974,178.5 975,179.7 976,180.9 977,182.2 978,183.5 979,184.8 980,186.1 981,187.4 982,188.8 983,190.1 984,191.5 985,192.9 986,194.4 987,195.8 988,197.3 989,198.8 990,200.3 991,201.9 992,203.4 993,205.0 994,206.6 995,208.3 996,209.9 997,211.6 998,213.3 999,215.0 1000,216.7 1001,218.5 1002,220.3 1003,222.1 1004,223.9 1005,225.8 1006,227.7 1007,229.6 1008,231.5 1009,233.4 1010,235.4 1011,237.4 1012,239.4 1013,241.4 1014,243.4 1015,245.5 1016,247.6 1017,249.7 1018,251.7 1019,253.9 1020,256.0 1021,258.1 1022,260.3 1023,262.4 1024,264.6 1025,266.7 1026,268.9 1027,271.1 1028,273.3 1029,275.5 1030,277.6 1031,279.8 1032,282.0 1033,284.2 1034,286.4 1035,288.6 1036,290.8 1037,293.0 1038,295.2 1039,297.4 1040,299.6 1041,301.8 1042,304.0 1043,306.2 1044,308.4 1045,310.6 1046,312.9 1047,315.1 1048,317.3 1049,319.6 1050,321.8 1051,324.1 1052,326.4 1053,328.7 1054,331.0 1055,333.3 1056,335.6 1057,337.9 1058,340.3 1059,342.6 1060,345.0 1061,347.4 1062,349.7 1063,352.1 1064,354.5 1065,356.9 1066,359.4 1067,361.8 1068,364.2 1069,366.7 1070,369.1 1071,371.6 1072,374.1 1073,376.5 1074,379.0 1075,381.5 1076,384.0 1077,386.5 1078,389.1 1079,391.6 1080,394.1 1081,396.6 1082,399.2 1083,401.7 1084,404.3 1085,406.8 1086,409.4 1087,412.0 1088,414.5 1089,417.1 1090,419.7 1091,422.3 1092,424.9 1093,427.5 1094,430.1 1095,432.7 1096,435.3 1097,437.9 1098,440.5 1099,443.1 1100,445.7 1101,448.3 1102,450.9 1103,453.6 1104,456.2 1105,458.8 1106,461.4 1107,464.1 1108,466.7 1109,469.3 1110,471.9 1111,474.6 1112,477.2 1113,479.8 1114,482.5 1115,485.1 1116,487.8 1117,490.4 1118,493.1 1119,495.7 1120,498.4 1121,501.0 1122,503.6 1123,506.3 1124,508.9 1125,511.5 1126,514.2 1127,516.8 1128,519.4 1129,522.0 1130,524.7 1131,527.3 1132,529.9 1133,532.5 1134,535.1 1135,537.7 1136,540.3 1137,542.8 1138,545.4 1139,548.0 1140,550.6 1141,553.1 1142,555.7 1143,558.2 1144,560.8 1145,563.3 1146,565.8 1147,568.4 1148,570.9 1149,573.4 1150,575.9 1151,578.4 1152,580.9 1153,583.3 1154,585.8 1155,588.3 1156,590.7 1157,593.1 1158,595.6 1159,598.0 1160,600.4 1161,602.8 1162,605.2 1163,607.6 1164,610.0 1165,612.3 1166,614.7 1167,617.0 1168,619.4 1169,621.7 1170,624.0 1171,626.3 1172,628.6 1173,630.9 1174,633.2 1175,635.5 1176,637.8 1177,640.0 1178,642.3 1179,644.5 1180,646.7 1181,648.9 1182,651.2 1183,653.4 1184,655.5 1185,657.7 1186,659.9 1187,662.1 1188,664.2 1189,666.4 1190,668.5 1191,670.7 1192,672.8 1193,674.9 1194,677.0 1195,679.1 1196,681.2 1197,683.3 1198,685.3 1199,687.4 1200,689.4 1201,691.5 1202,693.5 1203,695.5 1204,697.6 1205,699.6 1206,701.6 1207,703.6 1208,705.6 1209,707.5 1210,709.5 1211,711.5 1212,713.4 1213,715.3 1214,717.3 1215,719.2 1216,721.1 1217,723.0 1218,724.9 1219,726.8 1220,728.7 1221,730.6 1222,732.5 1223,734.3 1224,736.2 1225,738.0 1226,739.8 1227,741.7 1228,743.5 1229,745.3 1230,747.1 1231,748.9 1232,750.7 1233,752.4 1234,754.2 1235,756.0 1236,757.7 1237,759.5 1238,761.2 1239,762.9 1240,764.7 1241,766.4 1242,768.1 1243,769.8 1244,771.5 1245,773.2 1246,774.8 1247,776.5 1248,778.2 1249,779.8 1250,781.4 1251,783.1 1252,784.7 1253,786.3 1254,787.9 1255,789.5 1256,791.1 1257,792.7 1258,794.3 1259,795.9 1260,797.5 1261,799.0 1262,800.6 1263,802.1 1264,803.6 1265,805.2 1266,806.7 1267,808.2 1268,809.7 1269,811.2 1270,812.7 1271,814.2 1272,815.7 1273,817.1 1274,818.6 1275,820.1 1276,821.5 1277,822.9 1278,824.4 1279,825.8 1280,827.2 1281,828.6 1282,830.0 1283,831.4 1284,832.8 1285,834.2 1286,835.6 1287,837.0 1288,838.3 1289,839.7 1290,841.0 1291,842.4 1292,843.7 1293,845.0 1294,846.3 1295,847.7 1296,849.0 1297,850.3 1298,851.6 1299,852.8 1300,854.1 1301,855.4 1302,856.7 1303,857.9 1304,859.2 1305,860.4 1306,861.7 1307,862.9 1308,864.1 1309,865.3 1310,866.6 1311,867.8 1312,869.0 1313,870.2 1314,871.3 1315,872.5 1316,873.7 1317,874.9 1318,876.0 1319,877.2 1320,878.3 1321,879.5 1322,880.6 1323,881.7 1324,882.8 1325,883.9 1326,885.1 1327,886.2 1328,887.3 1329,888.3 1330,889.4 1331,890.5 1332,891.6 1333,892.6 1334,893.7 1335,894.7 1336,895.8 1337,896.8 1338,897.9 1339,898.9 1340,899.9 1341,900.9 1342,901.9 1343,902.9 1344,903.9 1345,904.9 1346,905.9 1347,906.9 1348,907.9 1349,908.8 1350,909.8 1351,910.8 1352,911.7 1353,912.6 1354,913.6 1355,914.5 1356,915.5 1357,916.4 1358,917.3 1359,918.2 1360,919.1 1361,920.0 1362,920.9 1363,921.8 1364,922.7 1365,923.6 1366,924.4 1367,925.3 1368,926.2 1369,927.0 1370,927.9 1371,928.7 1372,929.5 1373,930.4 1374,931.2 1375,932.0 1376,932.9 1377,933.7 1378,934.5 1379,935.3 1380,936.1 1381,936.9 1382,937.7 1383,938.5 1384,939.2 1385,940.0 1386,940.8 1387,941.5 1388,942.3 1389,943.1 1390,943.8 1391,944.6 1392,945.3 1393,946.0 1394,946.8 1395,947.5 1396,948.2 1397,948.9 1398,949.6 1399,950.3 1400,951.1 1401,951.7 1402,952.4 1403,953.1 1404,953.8 1405,954.5 1406,955.2 1407,955.8 1408,956.5 1409,957.2 1410,957.8 1411,958.5 1412,959.1 1413,959.8 1414,960.4 1415,961.1 1416,961.7 1417,962.3 1418,963.0 1419,963.6 1420,964.2 1421,964.8 1422,965.4 1423,966.0 1424,966.6 1425,967.2 1426,967.8 1427,968.4 1428,969.0 1429,969.6 1430,970.1 1431,970.7 1432,971.3 1433,971.9 1434,972.4 1435,973.0 1436,973.5 1437,974.1 1438,974.6 1439,975.2 1440,975.7 1441,976.3 1442,976.8 1443,977.3 1444,977.8 1445,978.4 1446,978.9 1447,979.4 1448,979.9 1449,980.4 1450,980.9 1451,981.4 1452,981.9 1453,982.4 1454,982.9 1455,983.4 1456,983.9 1457,984.4 1458,984.9 1459,985.3 1460,985.8 1461,986.3 1462,986.8 1463,987.2 1464,987.7 1465,988.1 1466,988.6 1467,989.1 1468,989.5 1469,989.9 1470,990.4 1471,990.8 1472,991.3 1473,991.7 1474,992.1 1475,992.6 1476,993.0 1477,993.4 1478,993.8 1479,994.3 1480,994.7 1481,995.1 1482,995.5 1483,995.9 1484,996.3 1485,996.7 1486,997.1 1487,997.5 1488,997.9 1489,998.3 1490,998.7 1491,999.1 1492,999.5 1493,999.9 1494,1000.3 1495,1000.6 1496,1001.0 1497,1001.4 1498,1001.8 1499,1002.1 1500,1002.5 1501,1002.9 1502,1003.2 1503,1003.6 1504,1004.0 1505,1004.3 1506,1004.7 1507,1005.0 1508,1005.4 1509,1005.7 1510,1006.1 1511,1006.4 1512,1006.8 1513,1007.1 1514,1007.5 1515,1007.8 1516,1008.1 1517,1008.5 1518,1008.8 1519,1009.1 1520,1009.5 1521,1009.8 1522,1010.1 1523,1010.5 1524,1010.8 1525,1011.1 1526,1011.4 1527,1011.8 1528,1012.1 1529,1012.4 1530,1012.7 1531,1013.0 1532,1013.3 1533,1013.6 1534,1014.0 1535,1014.3 1536,1014.6 1537,1014.9 1538,1015.2 1539,1015.5 1540,1015.8 1541,1016.1 1542,1016.4 1543,1016.7 1544,1017.0 1545,1017.2 1546,1017.5 1547,1017.8 1548,1018.1 1549,1018.4 1550,1018.7 1551,1019.0 1552,1019.2 1553,1019.5 1554,1019.8 1555,1020.1 1556,1020.4 1557,1020.6 1558,1020.9 1559,1021.2 1560,1021.4 1561,1021.7 1562,1022.0 1563,1022.2 1564,1022.5 1565,1022.8 1566,1023.0 1567,1023.3 1568,1023.5 1569,1023.8 1570,1024.1 1571,1024.3 1572,1024.6 1573,1024.8 1574,1025.1 1575,1025.3 1576,1025.6 1577,1025.8 1578,1026.0 1579,1026.3 1580,1026.5 1581,1026.8 1582,1027.0 1583,1027.2 1584,1027.5 1585,1027.7 1586,1027.9 1587,1028.2 1588,1028.4 1589,1028.6 1590,1028.9 1591,1029.1 1592,1029.3 1593,1029.5 1594,1029.8 1595,1030.0 1596,1030.2 1597,1030.4 1598,1030.6 1599,1030.8 1600,1031.1 1601,1031.3 1602,1031.5 1603,1031.7 1604,1031.9 1605,1032.1 1606,1032.3 1607,1032.5 1608,1032.7 1609,1032.9 1610,1033.1 1611,1033.3 1612,1033.5 1613,1033.7 1614,1033.9 1615,1034.1 1616,1034.3 1617,1034.5 1618,1034.7 1619,1034.9 1620,1035.1 1621,1035.3 1622,1035.5 1623,1035.7 1624,1035.8 1625,1036.0 1626,1036.2 1627,1036.4 1628,1036.6 1629,1036.8 1630,1036.9 1631,1037.1 1632,1037.3 1633,1037.5 1634,1037.6 1635,1037.8 1636,1038.0 1637,1038.2 1638,1038.3 1639,1038.5 1640,1038.7 1641,1038.8 1642,1039.0 1643,1039.2 1644,1039.3 1645,1039.5 1646,1039.7 1647,1039.8 1648,1040.0 1649,1040.1 1650,1040.3 1651,1040.5 1652,1040.6 1653,1040.8 1654,1040.9 1655,1041.1 1656,1041.2 1657,1041.4 1658,1041.5 1659,1041.7 1660,1041.8 1661,1042.0 1662,1042.1 1663,1042.3 1664,1042.4 1665,1042.6 1666,1042.7 1667,1042.8 1668,1043.0 1669,1043.1 1670,1043.3 1671,1043.4 1672,1043.5 1673,1043.7 1674,1043.8 1675,1043.9 1676,1044.1 1677,1044.2 1678,1044.3 1679,1044.5 1680,1044.6 1681,1044.7 1682,1044.9 1683,1045.0 1684,1045.1 1685,1045.2 1686,1045.4 1687,1045.5 1688,1045.6 1689,1045.7 1690,1045.9 1691,1046.0 1692,1046.1 1693,1046.2 1694,1046.3 1695,1046.5 1696,1046.6 1697,1046.7 1698,1046.8 1699,1046.9 1700,1047.1 1701,1047.2 1702,1047.3 1703,1047.4 1704,1047.5 1705,1047.6 1706,1047.7 1707,1047.8 1708,1047.9 1709,1048.1 1710,1048.2 1711,1048.3 1712,1048.4 1713,1048.5 1714,1048.6 1715,1048.7 1716,1048.8 1717,1048.9 1718,1049.0 1719,1049.1 1720,1049.2 1721,1049.3 1722,1049.4 1723,1049.5 1724,1049.6 1725,1049.7 1726,1049.8 1727,1049.9 1728,1050.0 1729,1050.1 1730,1050.2 1731,1050.3 1732,1050.4 1733,1050.5 1734,1050.5 1735,1050.6 1736,1050.7 1737,1050.8 1738,1050.9 1739,1051.0 1740,1051.1 1741,1051.2 1742,1051.3 1743,1051.3 1744,1051.4 1745,1051.5 1746,1051.6 1747,1051.7 1748,1051.8 1749,1051.9 1750,1051.9 1751,1052.0 1752,1052.1 1753,1052.2 1754,1052.3 1755,1052.4 1756,1052.4 1757,1052.5 1758,1052.6 1759,1052.7 1760,1052.8 1761,1052.8 1762,1052.9 1763,1053.0 1764,1053.1 1765,1053.1 1766,1053.2 1767,1053.3 1768,1053.4 1769,1053.4 1770,1053.5 1771,1053.6 1772,1053.7 1773,1053.7 1774,1053.8 1775,1053.9 1776,1054.0 1777,1054.0 1778,1054.1 1779,1054.2 1780,1054.3 1781,1054.3 1782,1054.4 1783,1054.5 1784,1054.5 1785,1054.6 1786,1054.7 1787,1054.7 1788,1054.8 1789,1054.9 1790,1054.9 1791,1055.0 1792,1055.1 1793,1055.1 1794,1055.2 1795,1055.3 1796,1055.3 1797,1055.4 1798,1055.5 1799,1055.5 1800,1055.6 1801,1055.7 1802,1055.7 1803,1055.8 1804,1055.9 1805,1055.9 1806,1056.0 1807,1056.1 1808,1056.1 1809,1056.2 1810,1056.2 1811,1056.3 1812,1056.4 1813,1056.4 1814,1056.5 1815,1056.6 1816,1056.6 1817,1056.7 1818,1056.7 1819,1056.8 1820,1056.9 1821,1056.9 1822,1057.0 1823,1057.0 1824,1057.1 1825,1057.2 1826,1057.2 1827,1057.3 1828,1057.3 1829,1057.4 1830,1057.4 1831,1057.5 1832,1057.6 1833,1057.6 1834,1057.7 1835,1057.7 1836,1057.8 1837,1057.8 1838,1057.9 1839,1057.9 1840,1058.0 1841,1058.1 1842,1058.1 1843,1058.2 1844,1058.2 1845,1058.3 1846,1058.3 1847,1058.4 1848,1058.4 1849,1058.5 1850,1058.5 1851,1058.6 1852,1058.6 1853,1058.7 1854,1058.7 1855,1058.8 1856,1058.8 1857,1058.9 1858,1058.9 1859,1059.0 1860,1059.0 1861,1059.1 1862,1059.1 1863,1059.2 1864,1059.2 1865,1059.3 1866,1059.3 1867,1059.4 1868,1059.4 1869,1059.5 1870,1059.5 1871,1059.6 1872,1059.6 1873,1059.6 1874,1059.7 1875,1059.7 1876,1059.8 1877,1059.8 1878,1059.9 1879,1059.9 1880,1060.0 1881,1060.0 1882,1060.0 1883,1060.1 1884,1060.1 1885,1060.2 1886,1060.2 1887,1060.3 1888,1060.3 1889,1060.3 1890,1060.4 1891,1060.4 1892,1060.5 1893,1060.5 1894,1060.5 1895,1060.6 1896,1060.6 1897,1060.7 1898,1060.7 1899,1060.7 1900,1060.8 1901,1060.8 1902,1060.9 1903,1060.9 1904,1060.9 1905,1061.0 1906,1061.0 1907,1061.0 1908,1061.1 1909,1061.1 1910,1061.1 1911,1061.2 1912,1061.2 1913,1061.3 1914,1061.3 1915,1061.3 1916,1061.4 1917,1061.4 1918,1061.4 1919,1061.5 1920,1061.5 1921,1061.5 1922,1061.6 1923,1061.6 1924,1061.6 1925,1061.7 1926,1061.7 1927,1061.7 1928,1061.8 1929,1061.8 1930,1061.8 1931,1061.8 1932,1061.9 1933,1061.9 1934,1061.9 1935,1062.0 1936,1062.0 1937,1062.0 1938,1062.1 1939,1062.1 1940,1062.1 1941,1062.1 1942,1062.2 1943,1062.2 1944,1062.2 1945,1062.2 1946,1062.3 1947,1062.3 1948,1062.3 1949,1062.4 1950,1062.4 1951,1062.4 1952,1062.4 1953,1062.5 1954,1062.5 1955,1062.5 1956,1062.5 1957,1062.5 1958,1062.6 1959,1062.6 1960,1062.6 1961,1062.6 1962,1062.7 1963,1062.7 1964,1062.7 1965,1062.7 1966,1062.8 1967,1062.8 1968,1062.8 1969,1062.8 1970,1062.8 1971,1062.9 1972,1062.9 1973,1062.9 1974,1062.9 1975,1062.9 1976,1063.0 1977,1063.0 1978,1063.0 1979,1063.0 1980,1063.0 1981,1063.0 1982,1063.1 1983,1063.1 1984,1063.1 1985,1063.1 1986,1063.1 1987,1063.1 1988,1063.2 1989,1063.2 1990,1063.2 1991,1063.2 1992,1063.2 1993,1063.2 1994,1063.3 1995,1063.3 1996,1063.3 1997,1063.3 1998,1063.3 1999,1063.3 2000,1063.3 2001,1063.4 2002,1063.4 2003,1063.4 2004,1063.4 2005,1063.4 2006,1063.4 2007,1063.4 2008,1063.4 2009,1063.4 2010,1063.5 2011,1063.5 2012,1063.5 2013,1063.5 2014,1063.5 2015,1063.5 2016,1063.5 2017,1063.5 2018,1063.5 2019,1063.5 2020,1063.6"/>
<polyline stroke="#00ffff" points="264,1471.8 265,1469.6 266,1467.3 267,1465.0 268,1462.8 269,1460.5 270,1458.3 271,1456.0 272,1453.8 273,1451.5 274,1449.2 275,1447.0 276,1444.7 277,1442.5 278,1440.2 279,1438.0 280,1435.7 281,1433.4 282,1431.2 283,1428.9 284,1426.7 285,1424.4 286,1422.2 287,1419.9 288,1417.7 289,1415.4 290,1413.2 291,1410.9 292,1408.7 293,1406.4 294,1404.2 295,1401.9 296,1399.7 297,1397.4 298,1395.2 299,1392.9 300,1390.7 301,1388.4 302,1386.2 303,1383.9 304,1381.7 305,1379.5 306,1377.2 307,1375.0 308,1372.7 309,1370.5 310,1368.2 311,1366.0 312,1363.7 313,1361.5 314,1359.3 315,1357.0 316,1354.8 317,1352.5 318,1350.3 319,1348.0 320,1345.8 321,1343.6 322,1341.3 323,1339.1 324,1336.8 325,1334.6 326,1332.4 327,1330.1 328,1327.9 329,1325.6 330,1323.4 331,1321.2 332,1318.9 333,1316.7 334,1314.5 335,1312.2 336,1310.0 337,1307.8 338,1305.5 339,1303.3 340,1301.0 341,1298.8 342,1296.6 343,1294.3 344,1292.1 345,1289.9 346,1287.6 347,1285.4 348,1283.2 349,1280.9 350,1278.7 351,1276.5 352,1274.2 353,1272.0 354,1269.8 355,1267.5 356,1265.3 357,1263.1 358,1260.9 359,1258.6 360,1256.4 361,1254.2 362,1251.9 363,1249.7 364,1247.5 365,1245.2 366,1243.0 367,1240.8 368,1238.6 369,1236.3 370,1234.1 371,1231.9 372,1229.6 373,1227.4 374,1225.2 375,1223.0 376,1220.7 377,1218.5 378,1216.3 379,1214.1 380,1211.8 381,1209.6 382,1207.4 383,1205.2 384,1202.9 385,1200.7 386,1198.5 387,1196.3 388,1194.0 389,1191.8 390,1189.6 391,1187.4 392,1185.1 393,1182.9 394,1180.7 395,1178.5 396,1176.2 397,1174.0 398,1171.8 399,1169.6 400,1167.4 401,1165.1 402,1162.9 403,1160.7 404,1158.5 405,1156.2 406,1154.0 407,1151.8 408,1149.6 409,1147.4 410,1145.1 411,1142.9 412,1140.7 413,1138.5 414,1136.3 415,1134.0 416,1131.8 417,1129.6 418,1127.4 419,1125.2 420,1122.9 421,1120.7 422,1118.5 423,1116.3 424,1114.1 425,1111.8 426,1109.6 427,1107.4 428,1105.2 429,1103.0 430,1100.8 431,1098.5 432,1096.3 433,1094.1 434,1091.9 435,1089.7 436,1087.4 437,1085.2 438,1083.0 439,1080.8 440,1078.6 441,1076.4 442,1074.1 443,1071.9 444,1069.7 445,1067.5 446,1065.3 447,1063.1 448,1060.8 449,1058.6 450,1056.4 451,1054.2 452,1052.0 453,1049.8 454,1047.5 455,1045.3 456,1043.1 457,1040.9 458,1038.7 459,1036.5 460,1034.2 461,1032.0 462,1029.8 463,1027.6 464,1025.4 465,1023.2 466,1020.9 467,1018.7 468,1016.5 469,1014.3 470,1012.1 471,1009.9 472,1007.7 473,1005.4 474,1003.2 475,1001.0 476,998.8 477,996.6 478,994.4 479,992.1 480,989.9 481,987.7 482,985.5 483,983.3 484,981.1 485,978.9 486,976.6 487,974.4 488,972.2 489,970.0 490,967.8 491,965.6 492,963.3 493,961.1 494,958.9 495,956.7 496,954.5 497,952.3 498,950.0 499,947.8 500,945.6 501,943.4 502,941.2 503,939.0 504,936.8 505,934.5 506,932.3 507,930.1 508,927.9 509,925.7 510,923.5 511,921.2 512,919.0 513,916.8 514,914.6 515,912.4 516,910.2 517,907.9 518,905.7 519,903.5 520,901.3 521,899.1 522,896.9 523,894.6 524,892.4 525,890.2 526,888.0 527,885.8 528,883.6 529,881.3 530,879.1 531,876.9 532,874.7 533,872.5 534,870.3 535,868.0 536,865.8 537,863.6 538,861.4 539,859.2 540,856.9 541,854.7 542,852.5 543,850.3 544,848.1 545,845.9 546,843.6 547,841.4 548,839.2 549,837.0 550,834.8 551,832.5 552,830.3 553,828.1 554,825.9 555,823.7 556,821.4 557,819.2 558,817.0 559,814.8 560,812.6 561,810.3 562,808.1 563,805.9 564,803.7 565,801.4 566,799.2 567,797.0 568,794.8 569,792.6 570,790.3 571,788.1 572,785.9 573,783.7 574,781.5 575,779.2 576,777.0 577,774.8 578,772.6 579,770.3 580,768.1 581,765.9 582,763.7 583,761.4 584,759.2 585,757.0 586,754.8 587,752.5 588,750.3 589,748.1 590,745.9 591,743.6 592,741.4 593,739.2 594,737.0 595,734.7 596,732.5 597,730.3 598,728.0 599,725.8 600,723.6 601,721.4 602,719.1 603,716.9 604,714.7 605,712.5 606,710.2 607,708.0 608,705.8 609,703.5 610,701.3 611,699.1 612,696.8 613,694.6 614,692.4 615,690.1 616,687.9 617,685.7 618,683.5 619,681.2 620,679.0 621,676.8 622,674.5 623,672.3 624,670.1 625,667.8 626,665.6 627,663.4 628,661.1 629,658.9 630,656.7 631,654.4 632,652.2 633,649.9 634,647.7 635,645.5 636,643.2 637,641.0 638,638.8 639,636.5 640,634.3 641,632.0 642,629.8 643,627.6 644,625.3 645,623.1 646,620.9 647,618.6 648,616.4 649,614.1 650,611.9 651,609.6 652,607.4 653,605.2 654,602.9 655,600.7 656,598.4 657,596.2 658,594.0 659,591.7 660,589.5 661,587.2 662,585.0 663,582.7 664,580.5 665,578.2 666,576.0 667,573.7 668,571.5 669,569.3 670,567.0 671,564.8 672,562.5 673,560.3 674,558.0 675,555.8 676,553.5 677,551.3 678,549.0 679,546.8 680,544.5 681,542.3 682,540.0 683,537.8 684,535.5 685,533.3 686,531.0 687,528.7 688,526.5 689,524.2 690,522.0 691,519.7 692,517.5 693,515.2 694,513.0 695,510.7 696,508.4 697,506.2 698,503.9 699,501.7 700,499.4 701,497.2 702,494.9 703,492.6 704,490.4 705,488.1 706,485.9 707,483.6 708,481.3 709,479.1 710,476.8 711,474.5 712,472.3 713,470.0 714,467.8 715,465.5 716,463.2 717,461.0 718,458.7 719,456.4 720,454.2 721,451.9 722,449.6 723,447.4 724,445.1 725,442.8 726,440.6 727,438.3 728,436.0 729,433.8 730,431.5 731,429.2 732,427.0 733,424.7 734,422.4 735,420.2 736,417.9 737,415.6 738,413.4 739,411.1 740,408.9 741,406.6 742,404.4 743,402.1 744,399.8 745,397.6 746,395.3 747,393.1 748,390.8 749,388.6 750,386.4 751,384.1 752,381.9 753,379.6 754,377.4 755,375.2 756,372.9 757,370.7 758,368.5 759,366.3 760,364.0 761,361.8 762,359.6 763,357.4 764,355.2 765,353.0 766,350.8 767,348.6 768,346.4 769,344.2 770,342.0 771,339.8 772,337.6 773,335.4 774,333.2 775,331.0 776,328.9 777,326.7 778,324.5 779,322.4 780,320.2 781,318.1 782,315.9 783,313.8 784,311.6 785,309.5 786,307.3 787,305.2 788,303.1 789,301.0 790,298.9 791,296.7 792,294.6 793,292.5 794,290.4 795,288.4 796,286.3 797,284.2 798,282.1 799,280.0 800,278.0 801,275.9 802,273.9 803,271.8 804,269.8 805,267.7 806,265.7 807,263.7 808,261.6 809,259.6 810,257.6 811,255.6 812,253.6 813,251.6 814,249.6 815,247.7 816,245.7 817,243.7 818,241.8 819,239.8 820,237.9 821,235.9 822,234.0 823,232.1 824,230.2 825,228.3 826,226.4 827,224.5 828,222.6 829,220.7 830,218.9 831,217.1 832,215.2 833,213.4 834,211.6 835,209.8 836,208.1 837,206.3 838,204.6 839,202.9 840,201.2 841,199.5 842,197.8 843,196.2 844,194.5 845,192.9 846,191.3 847,189.7 848,188.2 849,186.7 850,185.1 851,183.7 852,182.2 853,180.7 854,179.3 855,177.9 856,176.6 857,175.2 858,173.9 859,172.6 860,171.3 861,170.1 862,168.9 863,167.7 864,166.6 865,165.5 866,164.4 867,163.3 868,162.3 869,161.3 870,160.3 871,159.4 872,158.4 873,157.5 874,156.7 875,155.9 876,155.0 877,154.3 878,153.5 879,152.8 880,152.1 881,151.4 882,150.7 883,150.1 884,149.5 885,148.9 886,148.3 887,147.8 888,147.3 889,146.8 890,146.3 891,145.8 892,145.4 893,145.0 894,144.6 895,144.2 896,143.9 897,143.6 898,143.2 899,143.0 900,142.7 901,142.4 902,142.2 903,142.0 904,141.8 905,141.6 906,141.5 907,141.3 908,141.2 909,141.1 910,141.0 911,141.0 912,140.9 913,140.9 914,140.9 915,140.9 916,141.0 917,141.0 918,141.1 919,141.2 920,141.3 921,141.5 922,141.6 923,141.8 924,142.0 925,142.2 926,142.4 927,142.7 928,142.9 929,143.2 930,143.5 931,143.9 932,144.2 933,144.6 934,145.0 935,145.4 936,145.8 937,146.3 938,146.7 939,147.2 940,147.7 941,148.2 942,148.8 943,149.3 944,149.9 945,150.5 946,151.2 947,151.8 948,152.5 949,153.1 950,153.8 951,154.5 952,155.3 953,156.0 954,156.8 955,157.6 956,158.4 957,159.3 958,160.1 959,161.0 960,161.9 961,162.8 962,163.7 963,164.7 964,165.7 965,166.7 966,167.7 967,168.7 968,169.8 969,170.9 970,172.0 971,173.1 972,174.2 973,175.4 974,176.5 975,177.7 976,179.0 977,180.2 978,181.5 979,182.8 980,184.1 981,185.4 982,186.7 983,188.1 984,189.5 985,190.9 986,192.3 987,193.8 988,195.3 989,196.8 990,198.3 991,199.8 992,201.4 993,203.0 994,204.6 995,206.2 996,207.8 997,209.5 998,211.2 999,212.9 1000,214.7 1001,216.4 1002,218.2 1003,220.0 1004,221.8 1005,223.7 1006,225.6 1007,227.5 1008,229.4 1009,231.4 1010,233.3 1011,235.3 1012,237.3 1013,239.3 1014,241.4 1015,243.4 1016,245.5 1017,247.6 1018,249.7 1019,251.8 1020,253.9 1021,256.1 1022,258.2 1023,260.4 1024,262.5 1025,264.7 1026,266.9 1027,269.1 1028,271.3 1029,273.4 1030,275.6 1031,277.8 1032,280.0 1033,282.2 1034,284.4 1035,286.6 1036,288.8 1037,291.0 1038,293.2 1039,295.5 1040,297.7 1041,299.9 1042,302.1 1043,304.3 1044,306.5 1045,308.8 1046,311.0 1047,313.2 1048,315.5 1049,317.8 1050,320.0 1051,322.3 1052,324.6 1053,326.9 1054,329.2 1055,331.5 1056,333.9 1057,336.2 1058,338.6 1059,340.9 1060,343.3 1061,345.7 1062,348.1 1063,350.5 1064,352.9 1065,355.3 1066,357.8 1067,360.2 1068,362.7 1069,365.1 1070,367.6 1071,370.1 1072,372.6 1073,375.0 1074,377.5 1075,380.1 1076,382.6 1077,385.1 1078,387.6 1079,390.2 1080,392.7 1081,395.2 1082,397.8 1083,400.4 1084,402.9 1085,405.5 1086,408.1 1087,410.7 1088,413.2 1089,415.8 1090,418.4 1091,421.0 1092,423.6 1093,426.2 1094,428.8 1095,431.5 1096,434.1 1097,436.7 1098,439.3 1099,441.9 1100,444.6 1101,447.2 1102,449.8 1103,452.5 1104,455.1 1105,457.7 1106,460.4 1107,463.0 1108,465.7 1109,468.3 1110,470.9 1111,473.6 1112,476.2 1113,478.9 1114,481.5 1115,484.2 1116,486.8 1117,489.4 1118,492.1 1119,494.7 1120,497.4 1121,500.0 1122,502.6 1123,505.3 1124,507.9 1125,510.5 1126,513.1 1127,515.8 1128,518.4 1129,521.0 1130,523.6 1131,526.2 1132,528.8 1133,531.4 1134,534.0 1135,536.6 1136,539.2 1137,541.7 1138,544.3 1139,546.9 1140,549.5 1141,552.0 1142,554.6 1143,557.1 1144,559.6 1145,562.2 1146,564.7 1147,567.2 1148,569.7 1149,572.2 1150,574.7 1151,577.2 1152,579.7 1153,582.2 1154,584.6 1155,587.1 1156,589.5 1157,592.0 1158,594.4 1159,596.8 1160,599.2 1161,601.6 1162,604.0 1163,606.4 1164,608.7 1165,611.1 1166,613.5 1167,615.8 1168,618.1 1169,620.5 1170,622.8 1171,625.1 1172,627.4 1173,629.7 1174,631.9 1175,634.2 1176,636.5 1177,638.7 1178,641.0 1179,643.2 1180,645.4 1181,647.6 1182,649.9 1183,652.1 1184,654.2 1185,656.4 1186,658.6 1187,660.8 1188,662.9 1189,665.1 1190,667.2 1191,669.3 1192,671.4 1193,673.5 1194,675.6 1195,677.7 1196,679.8 1197,681.9 1198,684.0 1199,686.0 1200,688.1 1201,690.1 1202,692.1 1203,694.2 1204,696.2 1205,698.2 1206,700.2 1207,702.2 1208,704.1 1209,706.1 1210,708.1 1211,710.0 1212,712.0 1213,713.9 1214,715.9 1215,717.8 1216,719.7 1217,721.6 1218,723.5 1219,725.4 1220,727.3 1221,729.1 1222,731.0 1223,732.8 1224,734.7 1225,736.5 1226,738.4 1227,740.2 1228,742.0 1229,743.8 1230,745.6 1231,747.4 1232,749.2 1233,750.9 1234,752.7 1235,754.5 1236,756.2 1237,758.0 1238,759.7 1239,761.4 1240,763.1 1241,764.9 1242,766.6 1243,768.2 1244,769.9 1245,771.6 1246,773.3 1247,774.9 1248,776.6 1249,778.3 1250,779.9 1251,781.5 1252,783.1 1253,784.8 1254,786.4 1255,788.0 1256,789.6 1257,791.2 1258,792.7 1259,794.3 1260,795.9 1261,797.4 1262,799.0 1263,800.5 1264,802.0 1265,803.6 1266,805.1 1267,806.6 1268,808.1 1269,809.6 1270,811.1 1271,812.6 1272,814.0 1273,815.5 1274,817.0 1275,818.4 1276,819.9 1277,821.3 1278,822.7 1279,824.1 1280,825.6 1281,827.0 1282,828.4 1283,829.8 1284,831.2 1285,832.5 1286,833.9 1287,835.3 1288,836.6 1289,838.0 1290,839.3 1291,840.7 1292,842.0 1293,843.3 1294,844.7 1295,846.0 1296,847.3 1297,848.6 1298,849.9 1299,851.2 1300,852.4 1301,853.7 1302,855.0 1303,856.2 1304,857.5 1305,858.7 1306,860.0 1307,861.2 1308,862.4 1309,863.6 1310,864.9 1311,866.1 1312,867.3 1313,868.5 1314,869.6 1315,870.8 1316,872.0 1317,873.2 1318,874.3 1319,875.5 1320,876.6 1321,877.8 1322,878.9 1323,880.0 1324,881.1 1325,882.2 1326,883.4 1327,884.5 1328,885.5 1329,886.6 1330,887.7 1331,888.8 1332,889.9 1333,890.9 1334,892.0 1335,893.0 1336,894.1 1337,895.1 1338,896.1 1339,897.2 1340,898.2 1341,899.2 1342,900.2 1343,901.2 1344,902.2 1345,903.2 1346,904.2 1347,905.2 1348,906.1 1349,907.1 1350,908.1 1351,909.0 1352,910.0 1353,910.9 1354,911.9 1355,912.8 1356,913.7 1357,914.7 1358,915.6 1359,916.5 1360,917.4 1361,918.3 1362,919.2 1363,920.1 1364,921.0 1365,921.8 1366,922.7 1367,923.6 1368,924.4 1369,925.3 1370,926.2 1371,927.0 1372,927.8 1373,928.7 1374,929.5 1375,930.3 1376,931.2 1377,932.0 1378,932.8 1379,933.6 1380,934.4 1381,935.2 1382,936.0 1383,936.8 1384,937.6 1385,938.3 1386,939.1 1387,939.9 1388,940.6 1389,941.4 1390,942.1 1391,942.9 1392,943.6 1393,944.4 1394,945.1 1395,945.8 1396,946.6 1397,947.3 1398,948.0 1399,948.7 1400,949.4 1401,950.1 1402,950.8 1403,951.5 1404,952.2 1405,952.9 1406,953.6 1407,954.2 1408,954.9 1409,955.6 1410,956.2 1411,956.9 1412,957.5 1413,958.2 1414,958.8 1415,959.5 1416,960.1 1417,960.7 1418,961.4 1419,962.0 1420,962.6 1421,963.2 1422,963.8 1423,964.5 1424,965.1 1425,965.7 1426,966.3 1427,966.9 1428,967.4 1429,968.0 1430,968.6 1431,969.2 1432,969.8 1433,970.3 1434,970.9 1435,971.5 1436,972.0 1437,972.6 1438,973.1 1439,973.7 1440,974.2 1441,974.7 1442,975.3 1443,975.8 1444,976.3 1445,976.9 1446,977.4 1447,977.9 1448,978.4 1449,978.9 1450,979.4 1451,980.0 1452,980.5 1453,981.0 1454,981.5 1455,981.9 1456,982.4 1457,982.9 1458,983.4 1459,983.9 1460,984.4 1461,984.8 1462,985.3 1463,985.8 1464,986.2 1465,986.7 1466,987.2 1467,987.6 1468,988.1 1469,988.5 1470,989.0 1471,989.4 1472,989.9 1473,990.3 1474,990.7 1475,991.2 1476,991.6 1477,992.0 1478,992.4 1479,992.9 1480,993.3 1481,993.7 1482,994.1 1483,994.5 1484,994.9 1485,995.4 1486,995.8 1487,996.2 1488,996.6 1489,997.0 1490,997.4 1491,997.7 1492,998.1 1493,998.5 1494,998.9 1495,999.3 1496,999.7 1497,1000.1 1498,1000.4 1499,1000.8 1500,1001.2 1501,1001.5 1502,1001.9 1503,1002.3 1504,1002.6 1505,1003.0 1506,1003.4 1507,1003.7 1508,1004.1 1509,1004.4 1510,1004.8 1511,1005.1 1512,1005.5 1513,1005.8 1514,1006.2 1515,1006.5 1516,1006.9 1517,1007.2 1518,1007.5 1519,1007.9 1520,1008.2 1521,1008.6 1522,1008.9 1523,1009.2 1524,1009.5 1525,1009.9 1526,1010.2 1527,1010.5 1528,1010.8 1529,1011.2 1530,1011.5 1531,1011.8 1532,1012.1 1533,1012.4 1534,1012.7 1535,1013.0 1536,1013.4 1537,1013.7 1538,1014.0 1539,1014.3 1540,1014.6 1541,1014.9 1542,1015.2 1543,1015.5 1544,1015.8 1545,1016.1 1546,1016.3 1547,1016.6 1548,1016.9 1549,1017.2 1550,1017.5 1551,1017.8 1552,1018.1 1553,1018.4 1554,1018.6 1555,1018.9 1556,1019.2 1557,1019.5 1558,1019.7 1559,1020.0 1560,1020.3 1561,1020.6 1562,1020.8 1563,1021.1 1564,1021.4 1565,1021.6 1566,1021.9 1567,1022.1 1568,1022.4 1569,1022.7 1570,1022.9 1571,1023.2 1572,1023.4 1573,1023.7 1574,1023.9 1575,1024.2 1576,1024.4 1577,1024.7 1578,1024.9 1579,1025.2 1580,1025.4 1581,1025.7 1582,1025.9 1583,1026.1 1584,1026.4 1585,1026.6 1586,1026.8 1587,1027.1 1588,1027.3 1589,1027.5 1590,1027.8 1591,1028.0 1592,1028.2 1593,1028.4 1594,1028.7 1595,1028.9 1596,1029.1 1597,1029.3 1598,1029.6 1599,1029.8 1600,1030.0 1601,1030.2 1602,1030.4 1603,1030.6 1604,1030.8 1605,1031.1 1606,1031.3 1607,1031.5 1608,1031.7 1609,1031.9 1610,1032.1 1611,1032.3 1612,1032.5 1613,1032.7 1614,1032.9 1615,1033.1 1616,1033.3 1617,1033.5 1618,1033.7 1619,1033.9 1620,1034.1 1621,1034.3 1622,1034.4 1623,1034.6 1624,1034.8 1625,1035.0 1626,1035.2 1627,1035.4 1628,1035.6 1629,1035.7 1630,1035.9 1631,1036.1 1632,1036.3 1633,1036.5 1634,1036.6 1635,1036.8 1636,1037.0 1637,1037.2 1638,1037.3 1639,1037.5 1640,1037.7 1641,1037.8 1642,1038.0 1643,1038.2 1644,1038.3 1645,1038.5 1646,1038.7 1647,1038.8 1648,1039.0 1649,1039.1 1650,1039.3 1651,1039.5 1652,1039.6 1653,1039.8 1654,1039.9 1655,1040.1 1656,1040.2 1657,1040.4 1658,1040.5 1659,1040.7 1660,1040.8 1661,1041.0 1662,1041.1 1663,1041.3 1664,1041.4 1665,1041.6 1666,1041.7 1667,1041.9 1668,1042.0 1669,1042.1 1670,1042.3 1671,1042.4 1672,1042.6 1673,1042.7 1674,1042.8 1675,1043.0 1676,1043.1 1677,1043.2 1678,1043.4 1679,1043.5 1680,1043.6 1681,1043.8 1682,1043.9 1683,1044.0 1684,1044.2 1685,1044.3 1686,1044.4 1687,1044.5 1688,1044.7 1689,1044.8 1690,1044.9 1691,1045.0 1692,1045.1 1693,1045.3 1694,1045.4 1695,1045.5 1696,1045.6 1697,1045.7 1698,1045.9 1699,1046.0 1700,1046.1 1701,1046.2 1702,1046.3 1703,1046.4 1704,1046.5 1705,1046.7 1706,1046.8 1707,1046.9 1708,1047.0 1709,1047.1 1710,1047.2 1711,1047.3 1712,1047.4 1713,1047.5 1714,1047.6 1715,1047.7 1716,1047.8 1717,1047.9 1718,1048.0 1719,1048.1 1720,1048.2 1721,1048.3 1722,1048.4 1723,1048.5 1724,1048.6 1725,1048.7 1726,1048.8 1727,1048.9 1728,1049.0 1729,1049.1 1730,1049.2 1731,1049.3 1732,1049.4 1733,1049.5 1734,1049.6 1735,1049.7 1736,1049.8 1737,1049.9 1738,1050.0 1739,1050.1 1740,1050.1 1741,1050.2 1742,1050.3 1743,1050.4 1744,1050.5 1745,1050.6 1746,1050.7 1747,1050.8 1748,1050.8 1749,1050.9 1750,1051.0 1751,1051.1 1752,1051.2 1753,1051.3 1754,1051.3 1755,1051.4 1756,1051.5 1757,1051.6 1758,1051.7 1759,1051.7 1760,1051.8 1761,1051.9 1762,1052.0 1763,1052.1 1764,1052.1 1765,1052.2 1766,1052.3 1767,1052.4 1768,1052.4 1769,1052.5 1770,1052.6 1771,1052.7 1772,1052.7 1773,1052.8 1774,1052.9 1775,1053.0 1776,1053.0 1777,1053.1 1778,1053.2 1779,1053.3 1780,1053.3 1781,1053.4 1782,1053.5 1783,1053.5 1784,1053.6 1785,1053.7 1786,1053.7 1787,1053.8 1788,1053.9 1789,1054.0 1790,1054.0 1791,1054.1 1792,1054.2 1793,1054.2 1794,1054.3 1795,1054.4 1796,1054.4 1797,1054.5 1798,1054.6 1799,1054.6 1800,1054.7 1801,1054.8 1802,1054.8 1803,1054.9 1804,1054.9 1805,1055.0 1806,1055.1 1807,1055.1 1808,1055.2 1809,1055.3 1810,1055.3 1811,1055.4 1812,1055.4 1813,1055.5 1814,1055.6 1815,1055.6 1816,1055.7 1817,1055.8 1818,1055.8 1819,1055.9 1820,1055.9 1821,1056.0 1822,1056.1 1823,1056.1 1824,1056.2 1825,1056.2 1826,1056.3 1827,1056.3 1828,1056.4 1829,1056.5 1830,1056.5 1831,1056.6 1832,1056.6 1833,1056.7 1834,1056.7 1835,1056.8 1836,1056.9 1837,1056.9 1838,1057.0 1839,1057.0 1840,1057.1 1841,1057.1 1842,1057.2 1843,1057.2 1844,1057.3 1845,1057.3 1846,1057.4 1847,1057.4 1848,1057.5 1849,1057.6 1850,1057.6 1851,1057.7 1852,1057.7 1853,1057.8 1854,1057.8 1855,1057.9 1856,1057.9 1857,1058.0 1858,1058.0 1859,1058.1 1860,1058.1 1861,1058.2 1862,1058.2 1863,1058.2 1864,1058.3 1865,1058.3 1866,1058.4 1867,1058.4 1868,1058.5 1869,1058.5 1870,1058.6 1871,1058.6 1872,1058.7 1873,1058.7 1874,1058.8 1875,1058.8 1876,1058.9 1877,1058.9 1878,1058.9 1879,1059.0 1880,1059.0 1881,1059.1 1882,1059.1 1883,1059.2 1884,1059.2 1885,1059.2 1886,1059.3 1887,1059.3 1888,1059.4 1889,1059.4 1890,1059.5 1891,1059.5 1892,1059.5 1893,1059.6 1894,1059.6 1895,1059.7 1896,1059.7 1897,1059.7 1898,1059.8 1899,1059.8 1900,1059.8 1901,1059.9 1902,1059.9 1903,1060.0 1904,1060.0 1905,1060.0 1906,1060.1 1907,1060.1 1908,1060.1 1909,1060.2 1910,1060.2 1911,1060.3 1912,1060.3 1913,1060.3 1914,1060.4 1915,1060.4 1916,1060.4 1917,1060.5 1918,1060.5 1919,1060.5 1920,1060.6 1921,1060.6 1922,1060.6 1923,1060.7 1924,1060.7 1925,1060.7 1926,1060.8 1927,1060.8 1928,1060.8 1929,1060.8 1930,1060.9 1931,1060.9 1932,1060.9 1933,1061.0 1934,1061.0 1935,1061.0 1936,1061.1 1937,1061.1 1938,1061.1 1939,1061.1 1940,1061.2 1941,1061.2 1942,1061.2 1943,1061.3 1944,1061.3 1945,1061.3 1946,1061.3 1947,1061.4 1948,1061.4 1949,1061.4 1950,1061.4 1951,1061.5 1952,1061.5 1953,1061.5 1954,1061.5 1955,1061.6 1956,1061.6 1957,1061.6 1958,1061.6 1959,1061.7 1960,1061.7 1961,1061.7 1962,1061.7 1963,1061.7 1964,1061.8 1965,1061.8 1966,1061.8 1967,1061.8 1968,1061.9 1969,1061.9 1970,1061.9 1971,1061.9 1972,1061.9 1973,1062.0 1974,1062.0 1975,1062.0 1976,1062.0 1977,1062.0 1978,1062.0 1979,1062.1 1980,1062.1 1981,1062.1 1982,1062.1 1983,1062.1 1984,1062.2 1985,1062.2 1986,1062.2 1987,1062.2 1988,1062.2 1989,1062.2 1990,1062.2 1991,1062.3 1992,1062.3 1993,1062.3 1994,1062.3 1995,1062.3 1996,1062.3 1997,1062.3 1998,1062.4 1999,1062.4 2000,1062.4 2001,1062.4 2002,1062.4 2003,1062.4 2004,1062.4 2005,1062.4 2006,1062.5 2007,1062.5 2008,1062.5 2009,1062.5 2010,1062.5 2011,1062.5 2012,1062.5 2013,1062.5 2014,1062.5 2015,1062.6 2016,1062.6 2017,1062.6 2018,1062.6 2019,1062.6 2020,1062.6"/>
<polyline stroke="#ff00ff" points="264,1471.8 265,1469.6 266,1467.3 267,1465.0 268,1462.8 269,1460.5 270,1458.3 271,1456.0 272,1453.8 273,1451.5 274,1449.2 275,1447.0 276,1444.7 277,1442.5 278,1440.2 279,1438.0 280,1435.7 281,1433.4 282,1431.2 283,1428.9 284,1426.7 285,1424.4 286,1422.2 287,1419.9 288,1417.7 289,1415.4 290,1413.2 291,1410.9 292,1408.7 293,1406.4 294,1404.2 295,1401.9 296,1399.7 297,1397.4 298,1395.2 299,1392.9 300,1390.7 301,1388.4 302,1386.2 303,1383.9 304,1381.7 305,1379.5 306,1377.2 307,1375.0 308,1372.7 309,1370.5 310,1368.2 311,1366.0 312,1363.7 313,1361.5 314,1359.3 315,1357.0 316,1354.8 317,1352.5 318,1350.3 319,1348.0 320,1345.8 321,1343.6 322,1341.3 323,1339.1 324,1336.8 325,1334.6 326,1332.4 327,1330.1 328,1327.9 329,1325.6 330,1323.4 331,1321.2 332,1318.9 333,1316.7 334,1314.5 335,1312.2 336,1310.0 337,1307.8 338,1305.5 339,1303.3 340,1301.0 341,1298.8 342,1296.6 343,1294.3 344,1292.1 345,1289.9 346,1287.6 347,1285.4 348,1283.2 349,1280.9 350,1278.7 351,1276.5 352,1274.2 353,1272.0 354,1269.8 355,1267.5 356,1265.3 357,1263.1 358,1260.9 359,1258.6 360,1256.4 361,1254.2 362,1251.9 363,1249.7 364,1247.5 365,1245.2 366,1243.0 367,1240.8 368,1238.6 369,1236.3 370,1234.1 371,1231.9 372,1229.6 373,1227.4 374,1225.2 375,1223.0 376,1220.7 377,1218.5 378,1216.3 379,1214.1 380,1211.8 381,1209.6 382,1207.4 383,1205.2 384,1202.9 385,1200.7 386,1198.5 387,1196.3 388,1194.0 389,1191.8 390,1189.6 391,1187.4 392,1185.1 393,1182.9 394,1180.7 395,1178.5 396,1176.2 397,1174.0 398,1171.8 399,1169.6 400,1167.4 401,1165.1 402,1162.9 403,1160.7 404,1158.5 405,1156.2 406,1154.0 407,1151.8 408,1149.6 409,1147.4 410,1145.1 411,1142.9 412,1140.7 413,1138.5 414,1136.3 415,1134.0 416,1131.8 417,1129.6 418,1127.4 419,1125.2 420,1122.9 421,1120.7 422,1118.5 423,1116.3 424,1114.1 425,1111.8 426,1109.6 427,1107.4 428,1105.2 429,1103.0 430,1100.8 431,1098.5 432,1096.3 433,1094.1 434,1091.9 435,1089.7 436,1087.4 437,1085.2 438,1083.0 439,1080.8 440,1078.6 441,1076.4 442,1074.1 443,1071.9 444,1069.7 445,1067.5 446,1065.3 447,1063.1 448,1060.8 449,1058.6 450,1056.4 451,1054.2 452,1052.0 453,1049.8 454,1047.5 455,1045.3 456,1043.1 457,1040.9 458,1038.7 459,1036.5 460,1034.2 461,1032.0 462,1029.8 463,1027.6 464,1025.4 465,1023.2 466,1020.9 467,1018.7 468,1016.5 469,1014.3 470,1012.1 471,1009.9 472,1007.7 473,1005.4 474,1003.2 475,1001.0 476,998.8 477,996.6 478,994.4 479,992.1 480,989.9 481,987.7 482,985.5 483,983.3 484,981.1 485,978.9 486,976.6 487,974.4 488,972.2 489,970.0 490,967.8 491,965.6 492,963.3 493,961.1 494,958.9 495,956.7 496,954.5 497,952.3 498,950.0 499,947.8 500,945.6 501,943.4 502,941.2 503,939.0 504,936.8 505,934.5 506,932.3 507,930.1 508,927.9 509,925.7 510,923.5 511,921.2 512,919.0 513,916.8 514,914.6 515,912.4 516,910.2 517,907.9 518,905.7 519,903.5 520,901.3 521,899.1 522,896.9 523,894.6 524,892.4 525,890.2 526,888.0 527,885.8 528,883.6 529,881.3 530,879.1 531,876.9 532,874.7 533,872.5 534,870.3 535,868.0 536,865.8 537,863.6 538,861.4 539,859.2 540,856.9 541,854.7 542,852.5 543,850.3 544,848.1 545,845.9 546,843.6 547,841.4 548,839.2 549,837.0 550,834.8 551,832.5 552,830.3 553,828.1 554,825.9 555,823.7 556,821.4 557,819.2 558,817.0 559,814.8 560,812.6 561,810.3 562,808.1 563,805.9 564,803.7 565,801.4 566,799.2 567,797.0 568,794.8 569,792.6 570,790.3 571,788.1 572,785.9 573,783.7 574,781.5 575,779.2 576,777.0 577,774.8 578,772.6 579,770.3 580,768.1 581,765.9 582,763.7 583,761.4 584,759.2 585,757.0 586,754.8 587,752.5 588,750.3 589,748.1 590,745.9 591,743.6 592,741.4 593,739.2 594,737.0 595,734.7 596,732.5 597,730.3 598,728.0 599,725.8 600,723.6 601,721.4 602,719.1 603,716.9 604,714.7 605,712.5 606,710.2 607,708.0 608,705.8 609,703.5 610,701.3 611,699.1 612,696.8 613,694.6 614,692.4 615,690.1 616,687.9 617,685.7 618,683.5 619,681.2 620,679.0 621,676.8 622,674.5 623,672.3 624,670.1 625,667.8 626,665.6 627,663.4 628,661.1 629,658.9 630,656.7 631,654.4 632,652.2 633,649.9 634,647.7 635,645.5 636,643.2 637,641.0 638,638.8 639,636.5 640,634.3 641,632.0 642,629.8 643,627.6 644,625.3 645,623.1 646,620.9 647,618.6 648,616.4 649,614.1 650,611.9 651,609.6 652,607.4 653,605.2 654,602.9 655,600.7 656,598.4 657,596.2 658,594.0 659,591.7 660,589.5 661,587.2 662,585.0 663,582.7 664,580.5 665,578.2 666,576.0 667,573.7 668,571.5 669,569.3 670,567.0 671,564.8 672,562.5 673,560.3 674,558.0 675,555.8 676,553.5 677,551.3 678,549.0 679,546.8 680,544.5 681,542.3 682,540.0 683,537.8 684,535.5 685,533.3 686,531.0 687,528.7 688,526.5 689,524.2 690,522.0 691,519.7 692,517.5 693,515.2 694,513.0 695,510.7 696,508.4 697,506.2 698,503.9 699,501.7 700,499.4 701,497.2 702,494.9 703,492.6 704,490.4 705,488.1 706,485.9 707,483.6 708,481.3 709,479.1 710,476.8 711,474.5 712,472.3 713,470.0 714,467.8 715,465.5 716,463.2 717,461.0 718,458.7 719,456.4 720,454.2 721,451.9 722,449.6 723,447.4 724,445.1 725,442.8 726,440.6 727,438.3 728,436.0 729,433.8 730,431.5 731,429.2 732,427.0 733,424.7 734,422.4 735,420.2 736,417.9 737,415.6 738,413.4 739,411.1 740,408.9 741,406.6 742,404.4 743,402.1 744,399.8 745,397.6 746,395.3 747,393.1 748,390.8 749,388.6 750,386.4 751,384.1 752,381.9 753,379.6 754,377.4 755,375.2 756,372.9 757,370.7 758,368.5 759,366.3 760,364.0 761,361.8 762,359.6 763,357.4 764,355.2 765,353.0 766,350.8 767,348.6 768,346.4 769,344.2 770,342.0 771,339.8 772,337.6 773,335.4 774,333.2 775,331.0 776,328.9 777,326.7 778,324.5 779,322.4 780,320.2 781,318.1 782,315.9 783,313.8 784,311.6 785,309.5 786,307.3 787,305.2 788,303.1 789,301.0 790,298.9 791,296.7 792,294.6 793,292.5 794,290.4 795,288.4 796,286.3 797,284.2 798,282.1 799,280.0 800,278.0 801,275.9 802,273.9 803,271.8 804,269.8 805,267.7 806,265.7 807,263.7 808,261.6 809,259.6 810,257.6 811,255.6 812,253.6 813,251.6 814,249.6 815,247.7 816,245.7 817,243.7 818,241.8 819,239.8 820,237.9 821,235.9 822,234.0 823,232.1 824,230.1 825,228.2 826,226.3 827,224.4 828,222.6 829,220.7 830,218.8 831,217.0 832,215.1 833,213.3 834,211.5 835,209.7 836,207.9 837,206.2 838,204.4 839,202.7 840,201.0 841,199.3 842,197.6 843,195.9 844,194.3 845,192.6 846,191.0 847,189.5 848,187.9 849,186.3 850,184.8 851,183.3 852,181.8 853,180.4 854,178.9 855,177.5 856,176.2 857,174.8 858,173.5 859,172.2 860,170.9 861,169.6 862,168.4 863,167.2 864,166.1 865,164.9 866,163.8 867,162.8 868,161.7 869,160.7 870,159.7 871,158.8 872,157.8 873,156.9 874,156.0 875,155.2 876,154.4 877,153.6 878,152.8 879,152.0 880,151.3 881,150.6 882,149.9 883,149.3 884,148.7 885,148.1 886,147.5 887,146.9 888,146.4 889,145.9 890,145.4 891,144.9 892,144.5 893,144.0 894,143.6 895,143.2 896,142.9 897,142.5 898,142.2 899,141.9 900,141.6 901,141.3 902,141.0 903,140.8 904,140.6 905,140.4 906,140.2 907,140.1 908,140.0 909,139.8 910,139.7 911,139.7 912,139.6 913,139.6 914,139.6 915,139.6 916,139.6 917,139.6 918,139.7 919,139.8 920,139.9 921,140.0 922,140.2 923,140.3 924,140.5 925,140.7 926,140.9 927,141.2 928,141.4 929,141.7 930,142.0 931,142.4 932,142.7 933,143.1 934,143.4 935,143.8 936,144.2 937,144.7 938,145.1 939,145.6 940,146.1 941,146.6 942,147.2 943,147.7 944,148.3 945,148.9 946,149.5 947,150.1 948,150.8 949,151.5 950,152.2 951,152.9 952,153.6 953,154.3 954,155.1 955,155.9 956,156.7 957,157.5 958,158.4 959,159.2 960,160.1 961,161.0 962,162.0 963,162.9 964,163.9 965,164.9 966,165.9 967,166.9 968,167.9 969,169.0 970,170.1 971,171.2 972,172.3 973,173.5 974,174.7 975,175.8 976,177.1 977,178.3 978,179.6 979,180.8 980,182.1 981,183.4 982,184.8 983,186.1 984,187.5 985,188.9 986,190.4 987,191.8 988,193.3 989,194.8 990,196.3 991,197.8 992,199.4 993,201.0 994,202.6 995,204.2 996,205.9 997,207.5 998,209.2 999,210.9 1000,212.7 1001,214.5 1002,216.2 1003,218.1 1004,219.9 1005,221.7 1006,223.6 1007,225.5 1008,227.5 1009,229.4 1010,231.4 1011,233.4 1012,235.4 1013,237.4 1014,239.4 1015,241.5 1016,243.6 1017,245.7 1018,247.8 1019,249.9 1020,252.0 1021,254.2 1022,256.3 1023,258.5 1024,260.6 1025,262.8 1026,265.0 1027,267.2 1028,269.4 1029,271.6 1030,273.8 1031,276.0 1032,278.2 1033,280.4 1034,282.6 1035,284.9 1036,287.1 1037,289.3 1038,291.5 1039,293.7 1040,295.9 1041,298.2 1042,300.4 1043,302.6 1044,304.9 1045,307.1 1046,309.4 1047,311.6 1048,313.9 1049,316.2 1050,318.4 1051,320.7 1052,323.0 1053,325.3 1054,327.7 1055,330.0 1056,332.4 1057,334.7 1058,337.1 1059,339.5 1060,341.9 1061,344.3 1062,346.7 1063,349.1 1064,351.5 1065,354.0 1066,356.4 1067,358.9 1068,361.3 1069,363.8 1070,366.3 1071,368.8 1072,371.3 1073,373.8 1074,376.3 1075,378.8 1076,381.4 1077,383.9 1078,386.5 1079,389.0 1080,391.6 1081,394.1 1082,396.7 1083,399.3 1084,401.8 1085,404.4 1086,407.0 1087,409.6 1088,412.2 1089,414.8 1090,417.4 1091,420.1 1092,422.7 1093,425.3 1094,427.9 1095,430.6 1096,433.2 1097,435.8 1098,438.5 1099,441.1 1100,443.7 1101,446.4 1102,449.0 1103,451.7 1104,454.3 1105,457.0 1106,459.6 1107,462.3 1108,465.0 1109,467.6 1110,470.3 1111,472.9 1112,475.6 1113,478.2 1114,480.9 1115,483.5 1116,486.2 1117,488.8 1118,491.5 1119,494.2 1120,496.8 1121,499.4 1122,502.1 1123,504.7 1124,507.4 1125,510.0 1126,512.6 1127,515.3 1128,517.9 1129,520.5 1130,523.2 1131,525.8 1132,528.4 1133,531.0 1134,533.6 1135,536.2 1136,538.8 1137,541.4 1138,544.0 1139,546.5 1140,549.1 1141,551.7 1142,554.2 1143,556.8 1144,559.4 1145,561.9 1146,564.4 1147,567.0 1148,569.5 1149,572.0 1150,574.5 1151,577.0 1152,579.5 1153,582.0 1154,584.4 1155,586.9 1156,589.4 1157,591.8 1158,594.2 1159,596.7 1160,599.1 1161,601.5 1162,603.9 1163,606.3 1164,608.7 1165,611.0 1166,613.4 1167,615.8 1168,618.1 1169,620.4 1170,622.8 1171,625.1 1172,627.4 1173,629.7 1174,632.0 1175,634.3 1176,636.5 1177,638.8 1178,641.0 1179,643.3 1180,645.5 1181,647.7 1182,650.0 1183,652.2 1184,654.4 1185,656.6 1186,658.7 1187,660.9 1188,663.1 1189,665.2 1190,667.4 1191,669.5 1192,671.6 1193,673.8 1194,675.9 1195,678.0 1196,680.1 1197,682.1 1198,684.2 1199,686.3 1200,688.4 1201,690.4 1202,692.4 1203,694.5 1204,696.5 1205,698.5 1206,700.5 1207,702.5 1208,704.5 1209,706.5 1210,708.5 1211,710.4 1212,712.4 1213,714.3 1214,716.3 1215,718.2 1216,720.1 1217,722.0 1218,723.9 1219,725.8 1220,727.7 1221,729.6 1222,731.5 1223,733.3 1224,735.2 1225,737.0 1226,738.9 1227,740.7 1228,742.5 1229,744.4 1230,746.2 1231,748.0 1232,749.7 1233,751.5 1234,753.3 1235,755.1 1236,756.8 1237,758.6 1238,760.3 1239,762.1 1240,763.8 1241,765.5 1242,767.2 1243,768.9 1244,770.6 1245,772.3 1246,774.0 1247,775.6 1248,777.3 1249,779.0 1250,780.6 1251,782.3 1252,783.9 1253,785.5 1254,787.1 1255,788.7 1256,790.3 1257,791.9 1258,793.5 1259,795.1 1260,796.7 1261,798.2 1262,799.8 1263,801.3 1264,802.9 1265,804.4 1266,805.9 1267,807.5 1268,809.0 1269,810.5 1270,812.0 1271,813.5 1272,814.9 1273,816.4 1274,817.9 1275,819.3 1276,820.8 1277,822.2 1278,823.7 1279,825.1 1280,826.5 1281,827.9 1282,829.4 1283,830.8 1284,832.2 1285,833.5 1286,834.9 1287,836.3 1288,837.7 1289,839.0 1290,840.4 1291,841.7 1292,843.1 1293,844.4 1294,845.7 1295,847.0 1296,848.3 1297,849.6 1298,850.9 1299,852.2 1300,853.5 1301,854.8 1302,856.0 1303,857.3 1304,858.6 1305,859.8 1306,861.1 1307,862.3 1308,863.5 1309,864.7 1310,865.9 1311,867.2 1312,868.4 1313,869.6 1314,870.7 1315,871.9 1316,873.1 1317,874.3 1318,875.4 1319,876.6 1320,877.7 1321,878.9 1322,880.0 1323,881.1 1324,882.3 1325,883.4 1326,884.5 1327,885.6 1328,886.7 1329,887.8 1330,888.9 1331,889.9 1332,891.0 1333,892.1 1334,893.1 1335,894.2 1336,895.2 1337,896.3 1338,897.3 1339,898.3 1340,899.4 1341,900.4 1342,901.4 1343,902.4 1344,903.4 1345,904.4 1346,905.4 1347,906.4 1348,907.3 1349,908.3 1350,909.3 1351,910.2 1352,911.2 1353,912.1 1354,913.1 1355,914.0 1356,914.9 1357,915.9 1358,916.8 1359,917.7 1360,918.6 1361,919.5 1362,920.4 1363,921.3 1364,922.2 1365,923.1 1366,923.9 1367,924.8 1368,925.7 1369,926.5 1370,927.4 1371,928.2 1372,929.1 1373,929.9 1374,930.7 1375,931.6 1376,932.4 1377,933.2 1378,934.0 1379,934.8 1380,935.6 1381,936.4 1382,937.2 1383,938.0 1384,938.8 1385,939.6 1386,940.3 1387,941.1 1388,941.9 1389,942.6 1390,943.4 1391,944.1 1392,944.9 1393,945.6 1394,946.3 1395,947.1 1396,947.8 1397,948.5 1398,949.2 1399,949.9 1400,950.6 1401,951.3 1402,952.0 1403,952.7 1404,953.4 1405,954.1 1406,954.8 1407,955.5 1408,956.1 1409,956.8 1410,957.5 1411,958.1 1412,958.8 1413,959.4 1414,960.1 1415,960.7 1416,961.3 1417,962.0 1418,962.6 1419,963.2 1420,963.8 1421,964.5 1422,965.1 1423,965.7 1424,966.3 1425,966.9 1426,967.5 1427,968.1 1428,968.6 1429,969.2 1430,969.8 1431,970.4 1432,971.0 1433,971.5 1434,972.1 1435,972.7 1436,973.2 1437,973.8 1438,974.3 1439,974.9 1440,975.4 1441,975.9 1442,976.5 1443,977.0 1444,977.5 1445,978.1 1446,978.6 1447,979.1 1448,979.6 1449,980.1 1450,980.6 1451,981.1 1452,981.6 1453,982.1 1454,982.6 1455,983.1 1456,983.6 1457,984.1 1458,984.6 1459,985.1 1460,985.5 1461,986.0 1462,986.5 1463,987.0 1464,987.4 1465,987.9 1466,988.3 1467,988.8 1468,989.2 1469,989.7 1470,990.1 1471,990.6 1472,991.0 1473,991.5 1474,991.9 1475,992.3 1476,992.8 1477,993.2 1478,993.6 1479,994.0 1480,994.4 1481,994.9 1482,995.3 1483,995.7 1484,996.1 1485,996.5 1486,996.9 1487,997.3 1488,997.7 1489,998.1 1490,998.5 1491,998.9 1492,999.3 1493,999.7 1494,1000.0 1495,1000.4 1496,1000.8 1497,1001.2 1498,1001.6 1499,1001.9 1500,1002.3 1501,1002.7 1502,1003.0 1503,1003.4 1504,1003.8 1505,1004.1 1506,1004.5 1507,1004.8 1508,1005.2 1509,1005.6 1510,1005.9 1511,1006.3 1512,1006.6 1513,1006.9 1514,1007.3 1515,1007.6 1516,1008.0 1517,1008.3 1518,1008.6 1519,1009.0 1520,1009.3 1521,1009.6 1522,1010.0 1523,1010.3 1524,1010.6 1525,1011.0 1526,1011.3 1527,1011.6 1528,1011.9 1529,1012.2 1530,1012.6 1531,1012.9 1532,1013.2 1533,1013.5 1534,1013.8 1535,1014.1 1536,1014.4 1537,1014.7 1538,1015.0 1539,1015.3 1540,1015.6 1541,1015.9 1542,1016.2 1543,1016.5 1544,1016.8 1545,1017.1 1546,1017.4 1547,1017.7 1548,1018.0 1549,1018.3 1550,1018.6 1551,1018.8 1552,1019.1 1553,1019.4 1554,1019.7 1555,1020.0 1556,1020.2 1557,1020.5 1558,1020.8 1559,1021.1 1560,1021.3 1561,1021.6 1562,1021.9 1563,1022.1 1564,1022.4 1565,1022.7 1566,1022.9 1567,1023.2 1568,1023.4 1569,1023.7 1570,1024.0 1571,1024.2 1572,1024.5 1573,1024.7 1574,1025.0 1575,1025.2 1576,1025.5 1577,1025.7 1578,1026.0 1579,1026.2 1580,1026.4 1581,1026.7 1582,1026.9 1583,1027.2 1584,1027.4 1585,1027.6 1586,1027.9 1587,1028.1 1588,1028.3 1589,1028.6 1590,1028.8 1591,1029.0 1592,1029.2 1593,1029.5 1594,1029.7 1595,1029.9 1596,1030.1 1597,1030.3 1598,1030.6 1599,1030.8 1600,1031.0 1601,1031.2 1602,1031.4 1603,1031.6 1604,1031.9 1605,1032.1 1606,1032.3 1607,1032.5 1608,1032.7 1609,1032.9 1610,1033.1 1611,1033.3 1612,1033.5 1613,1033.7 1614,1033.9 1615,1034.1 1616,1034.3 1617,1034.5 1618,1034.7 1619,1034.9 1620,1035.1 1621,1035.2 1622,1035.4 1623,1035.6 1624,1035.8 1625,1036.0 1626,1036.2 1627,1036.4 1628,1036.5 1629,1036.7 1630,1036.9 1631,1037.1 1632,1037.3 1633,1037.4 1634,1037.6 1635,1037.8 1636,1038.0 1637,1038.1 1638,1038.3 1639,1038.5 1640,1038.6 1641,1038.8 1642,1039.0 1643,1039.1 1644,1039.3 1645,1039.5 1646,1039.6 1647,1039.8 1648,1040.0 1649,1040.1 1650,1040.3 1651,1040.4 1652,1040.6 1653,1040.8 1654,1040.9 1655,1041.1 1656,1041.2 1657,1041.4 1658,1041.5 1659,1041.7 1660,1041.8 1661,1042.0 1662,1042.1 1663,1042.3 1664,1042.4 1665,1042.5 1666,1042.7 1667,1042.8 1668,1043.0 1669,1043.1 1670,1043.3 1671,1043.4 1672,1043.5 1673,1043.7 1674,1043.8 1675,1043.9 1676,1044.1 1677,1044.2 1678,1044.3 1679,1044.5 1680,1044.6 1681,1044.7 1682,1044.9 1683,1045.0 1684,1045.1 1685,1045.2 1686,1045.4 1687,1045.5 1688,1045.6 1689,1045.7 1690,1045.9 1691,1046.0 1692,1046.1 1693,1046.2 1694,1046.3 1695,1046.5 1696,1046.6 1697,1046.7 1698,1046.8 1699,1046.9 1700,1047.1 1701,1047.2 1702,1047.3 1703,1047.4 1704,1047.5 1705,1047.6 1706,1047.7 1707,1047.8 1708,1047.9 1709,1048.1 1710,1048.2 1711,1048.3 1712,1048.4 1713,1048.5 1714,1048.6 1715,1048.7 1716,1048.8 1717,1048.9 1718,1049.0 1719,1049.1 1720,1049.2 1721,1049.3 1722,1049.4 1723,1049.5 1724,1049.6 1725,1049.7 1726,1049.8 1727,1049.9 1728,1050.0 1729,1050.1 1730,1050.2 1731,1050.3 1732,1050.4 1733,1050.5 1734,1050.5 1735,1050.6 1736,1050.7 1737,1050.8 1738,1050.9 1739,1051.0 1740,1051.1 1741,1051.2 1742,1051.3 1743,1051.3 1744,1051.4 1745,1051.5 1746,1051.6 1747,1051.7 1748,1051.8 1749,1051.9 1750,1051.9 1751,1052.0 1752,1052.1 1753,1052.2 1754,1052.3 1755,1052.4 1756,1052.4 1757,1052.5 1758,1052.6 1759,1052.7 1760,1052.8 1761,1052.8 1762,1052.9 1763,1053.0 1764,1053.1 1765,1053.1 1766,1053.2 1767,1053.3 1768,1053.4 1769,1053.4 1770,1053.5 1771,1053.6 1772,1053.7 1773,1053.7 1774,1053.8 1775,1053.9 1776,1054.0 1777,1054.0 1778,1054.1 1779,1054.2 1780,1054.3 1781,1054.3 1782,1054.4 1783,1054.5 1784,1054.5 1785,1054.6 1786,1054.7 1787,1054.7 1788,1054.8 1789,1054.9 1790,1054.9 1791,1055.0 1792,1055.1 1793,1055.1 1794,1055.2 1795,1055.3 1796,1055.3 1797,1055.4 1798,1055.5 1799,1055.5 1800,1055.6 1801,1055.7 1802,1055.7 1803,1055.8 1804,1055.9 1805,1055.9 1806,1056.0 1807,1056.1 1808,1056.1 1809,1056.2 1810,1056.2 1811,1056.3 1812,1056.4 1813,1056.4 1814,1056.5 1815,1056.6 1816,1056.6 1817,1056.7 1818,1056.7 1819,1056.8 1820,1056.9 1821,1056.9 1822,1057.0 1823,1057.0 1824,1057.1 1825,1057.2 1826,1057.2 1827,1057.3 1828,1057.3 1829,1057.4 1830,1057.4 1831,1057.5 1832,1057.6 1833,1057.6 1834,1057.7 1835,1057.7 1836,1057.8 1837,1057.8 1838,1057.9 1839,1057.9 1840,1058.0 1841,1058.1 1842,1058.1 1843,1058.2 1844,1058.2 1845,1058.3 1846,1058.3 1847,1058.4 1848,1058.4 1849,1058.5 1850,1058.5 1851,1058.6 1852,1058.6 1853,1058.7 1854,1058.7 1855,1058.8 1856,1058.8 1857,1058.9 1858,1058.9 1859,1059.0 1860,1059.0 1861,1059.1 1862,1059.1 1863,1059.2 1864,1059.2 1865,1059.3 1866,1059.3 1867,1059.4 1868,1059.4 1869,1059.5 1870,1059.5 1871,1059.6 1872,1059.6 1873,1059.6 1874,1059.7 1875,1059.7 1876,1059.8 1877,1059.8 1878,1059.9 1879,1059.9 1880,1060.0 1881,1060.0 1882,1060.0 1883,1060.1 1884,1060.1 1885,1060.2 1886,1060.2 1887,1060.3 1888,1060.3 1889,1060.3 1890,1060.4 1891,1060.4 1892,1060.5 1893,1060.5 1894,1060.5 1895,1060.6 1896,1060.6 1897,1060.7 1898,1060.7 1899,1060.7 1900,1060.8 1901,1060.8 1902,1060.9 1903,1060.9 1904,1060.9 1905,1061.0 1906,1061.0 1907,1061.0 1908,1061.1 1909,1061.1 1910,1061.1 1911,1061.2 1912,1061.2 1913,1061.3 1914,1061.3 1915,1061.3 1916,1061.4 1917,1061.4 1918,1061.4 1919,1061.5 1920,1061.5 1921,1061.5 1922,1061.6 1923,1061.6 1924,1061.6 1925,1061.7 1926,1061.7 1927,1061.7 1928,1061.8 1929,1061.8 1930,1061.8 1931,1061.8 1932,1061.9 1933,1061.9 1934,1061.9 1935,1062.0 1936,1062.0 1937,1062.0 1938,1062.1 1939,1062.1 1940,1062.1 1941,1062.1 1942,1062.2 1943,1062.2 1944,1062.2 1945,1062.2 1946,1062.3 1947,1062.3 1948,1062.3 1949,1062.4 1950,1062.4 1951,1062.4 1952,1062.4 1953,1062.5 1954,1062.5 1955,1062.5 1956,1062.5 1957,1062.5 1958,1062.6 1959,1062.6 1960,1062.6 1961,1062.6 1962,1062.7 1963,1062.7 1964,1062.7 1965,1062.7 1966,1062.8 1967,1062.8 1968,1062.8 1969,1062.8 1970,1062.8 1971,1062.9 1972,1062.9 1973,1062.9 1974,1062.9 1975,1062.9 1976,1063.0 1977,1063.0 1978,1063.0 1979,1063.0 1980,1063.0 1981,1063.0 1982,1063.1 1983,1063.1 1984,1063.1 1985,1063.1 1986,1063.1 1987,1063.1 1988,1063.2 1989,1063.2 1990,1063.2 1991,1063.2 1992,1063.2 1993,1063.2 1994,1063.3 1995,1063.3 1996,1063.3 1997,1063.3 1998,1063.3 1999,1063.3 2000,1063.3 2001,1063.4 2002,1063.4 2003,1063.4 2004,1063.4 2005,1063.4 2006,1063.4 2007,1063.4 2008,1063.4 2009,1063.4 2010,1063.5 2011,1063.5 2012,1063.5 2013,1063.5 2014,1063.5 2015,1063.5 2016,1063.5 2017,1063.5 2018,1063.5 2019,1063.5 2020,1063.6"/>
</g>
<rect x="1085" y="490" width="78" height="66" fill="rgba(188,188,188,0.48)" stroke="rgba(238,20,20,0.58)" stroke-width="4"/>
<line x1="1096.5" y1="566.5" x2="982" y2="818" stroke="#000" stroke-width="8" stroke-linecap="butt"/>
<polygon points="976,804.5 998,813.5 971,843" fill="#000" stroke="#000" stroke-width="3" stroke-linejoin="round"/>
<rect x="260" y="45" width="1763.5" height="1423" fill="none" stroke="#000" stroke-width="8"/>
<path d="M264,1468.0H288 M264,1366.4H274 M264,1264.7H288 M264,1163.1H274 M264,1061.4H288 M264,959.8H274 M264,858.1H288 M264,756.5H274 M264,654.8H288 M264,553.2H274 M264,451.5H288 M264,349.9H274 M264,248.3H288 M264,146.6H274 M264,45.0H288 M554.0,1464V1454 M848.0,1464V1440 M1142.0,1464V1454 M1436.0,1464V1440 M1730.0,1464V1454" stroke="#000" stroke-width="8" fill="none"/>
<text transform="translate(230.4,1490.8) scale(1,1.035)" font-size="75" font-weight="bold" text-anchor="end">0.0</text>
<text transform="translate(230.4,1287.5) scale(1,1.035)" font-size="75" font-weight="bold" text-anchor="end">0.1</text>
<text transform="translate(230.4,1084.2) scale(1,1.035)" font-size="75" font-weight="bold" text-anchor="end">0.2</text>
<text transform="translate(230.4,880.9) scale(1,1.035)" font-size="75" font-weight="bold" text-anchor="end">0.3</text>
<text transform="translate(230.4,677.6) scale(1,1.035)" font-size="75" font-weight="bold" text-anchor="end">0.4</text>
<text transform="translate(230.4,474.3) scale(1,1.035)" font-size="75" font-weight="bold" text-anchor="end">0.5</text>
<text transform="translate(230.4,271.1) scale(1,1.035)" font-size="75" font-weight="bold" text-anchor="end">0.6</text>
<text transform="translate(230.4,67.8) scale(1,1.035)" font-size="75" font-weight="bold" text-anchor="end">0.7</text>
<text transform="translate(259.0,1556.3) scale(1,1.035)" font-size="75" font-weight="bold" text-anchor="middle">0</text>
<text transform="translate(847.0,1556.3) scale(1,1.035)" font-size="75" font-weight="bold" text-anchor="middle">100</text>
<text transform="translate(1435.0,1556.3) scale(1,1.035)" font-size="75" font-weight="bold" text-anchor="middle">200</text>
<text transform="translate(2023.0,1556.3) scale(1,1.035)" font-size="75" font-weight="bold" text-anchor="middle">300</text>
<text x="1000.5" y="1649" font-size="80.8" font-weight="bold">Time (s)</text>
<text transform="translate(90,1263.3) rotate(-90)" font-size="80.8" font-weight="bold">The mass fractin of soot (g/L)</text>
<rect x="1352" y="298.0" width="107" height="9.0" fill="#000000"/>
<text x="1480" y="318.7" font-size="74" textLength="28.9" lengthAdjust="spacingAndGlyphs">1</text>
<rect x="1352" y="390.0" width="107" height="8.0" fill="#ff0000"/>
<text x="1480" y="410.2" font-size="74" textLength="86.5" lengthAdjust="spacingAndGlyphs">1.1</text>
<rect x="1352" y="481.0" width="107" height="8.0" fill="#00ff00"/>
<text x="1480" y="501.2" font-size="74" textLength="86.5" lengthAdjust="spacingAndGlyphs">1.2</text>
<rect x="1352" y="572.0" width="107" height="9.0" fill="#0000ff"/>
<text x="1480" y="592.7" font-size="74" textLength="86.5" lengthAdjust="spacingAndGlyphs">1.3</text>
<rect x="1352" y="664.0" width="107" height="8.0" fill="#00ffff"/>
<text x="1480" y="684.2" font-size="74" textLength="86.5" lengthAdjust="spacingAndGlyphs">1.4</text>
<rect x="1352" y="755.0" width="107" height="8.0" fill="#ff00ff"/>
<text x="1480" y="775.2" font-size="74" textLength="86.5" lengthAdjust="spacingAndGlyphs">1.5</text>
<path d="M264,1468.0H288 M264,1366.4H274 M264,1264.7H288 M264,1163.1H274 M264,1061.4H288 M264,959.8H274 M264,858.1H288 M264,756.5H274 M264,654.8H288 M264,553.2H274 M264,451.5H288 M264,349.9H274 M264,248.3H288 M264,146.6H274 M264,45.0H288 M554.0,1464V1454 M848.0,1464V1440 M1142.0,1464V1454 M1436.0,1464V1440 M1730.0,1464V1454" stroke="#000" stroke-width="8" fill="none"/>
<text transform="translate(230.4,1490.8) scale(1,1.035)" font-size="75" font-weight="bold" text-anchor="end">0.0</text>
<text transform="translate(230.4,1287.5) scale(1,1.035)" font-size="75" font-weight="bold" text-anchor="end">0.1</text>
<text transform="translate(230.4,1084.2) scale(1,1.035)" font-size="75" font-weight="bold" text-anchor="end">0.2</text>
<text transform="translate(230.4,880.9) scale(1,1.035)" font-size="75" font-weight="bold" text-anchor="end">0.3</text>
<text transform="translate(230.4,677.6) scale(1,1.035)" font-size="75" font-weight="bold" text-anchor="end">0.4</text>
<text transform="translate(230.4,474.3) scale(1,1.035)" font-size="75" font-weight="bold" text-anchor="end">0.5</text>
<text transform="translate(230.4,271.1) scale(1,1.035)" font-size="75" font-weight="bold" text-anchor="end">0.6</text>
<text transform="translate(230.4,67.8) scale(1,1.035)" font-size="75" font-weight="bold" text-anchor="end">0.7</text>
<text transform="translate(259.0,1556.3) scale(1,1.035)" font-size="75" font-weight="bold" text-anchor="middle">0</text>
<text transform="translate(847.0,1556.3) scale(1,1.035)" font-size="75" font-weight="bold" text-anchor="middle">100</text>
<text transform="translate(1435.0,1556.3) scale(1,1.035)" font-size="75" font-weight="bold" text-anchor="middle">200</text>
<text transform="translate(2023.0,1556.3) scale(1,1.035)" font-size="75" font-weight="bold" text-anchor="middle">300</text>
<text x="1000.5" y="1649" font-size="80.8" font-weight="bold">Time (s)</text>
<text transform="translate(90,1263.3) rotate(-90)" font-size="80.8" font-weight="bold">The mass fractin of soot (g/L)</text>
<rect x="1352" y="298.0" width="107" height="9.0" fill="#000000"/>
<text x="1480" y="318.7" font-size="74" textLength="28.9" lengthAdjust="spacingAndGlyphs">1</text>
<rect x="1352" y="390.0" width="107" height="8.0" fill="#ff0000"/>
<text x="1480" y="410.2" font-size="74" textLength="86.5" lengthAdjust="spacingAndGlyphs">1.1</text>
<rect x="1352" y="481.0" width="107" height="8.0" fill="#00ff00"/>
<text x="1480" y="501.2" font-size="74" textLength="86.5" lengthAdjust="spacingAndGlyphs">1.2</text>
<rect x="1352" y="572.0" width="107" height="9.0" fill="#0000ff"/>
<text x="1480" y="592.7" font-size="74" textLength="86.5" lengthAdjust="spacingAndGlyphs">1.3</text>
<rect x="1352" y="664.0" width="107" height="8.0" fill="#00ffff"/>
<text x="1480" y="684.2" font-size="74" textLength="86.5" lengthAdjust="spacingAndGlyphs">1.4</text>
<rect x="1352" y="755.0" width="107" height="8.0" fill="#ff00ff"/>
<text x="1480" y="775.2" font-size="74" textLength="86.5" lengthAdjust="spacingAndGlyphs">1.5</text>
<g id="inset">
<rect x="645" y="845" width="580" height="520" fill="#fff"/>
<clipPath id="ic"><rect x="657" y="854.5" width="548" height="502.5"/></clipPath>
<rect x="657" y="854.5" width="548" height="2" fill="#d8d8d8"/>
<g clip-path="url(#ic)" stroke-width="3.6" fill="none">
<line x1="865.4" y1="844.5" x2="1070.5" y2="1367" stroke="#000"/>
<line x1="892.3" y1="844.5" x2="1100.6" y2="1367" stroke="#f00"/>
<line x1="904.5" y1="844.5" x2="1111.0" y2="1367" stroke="#0f0"/>
<line x1="911.3" y1="844.5" x2="1119.0" y2="1367" stroke="#00f"/>
<line x1="918.5" y1="844.5" x2="1125.0" y2="1367" stroke="#0ff"/>
<line x1="918.5" y1="844.5" x2="1125.0" y2="1367" stroke="#f0f"/>
</g>
<rect x="655" y="848" width="552" height="2.5" fill="#8a8a8a"/>
<rect x="655" y="850.5" width="552" height="4" fill="#000"/>
<rect x="650.5" y="848" width="3" height="514" fill="#e0e0e0"/>
<rect x="653.3" y="848" width="3.4" height="514" fill="#000"/>
<rect x="656.7" y="856" width="2.5" height="500" fill="#e0e0e0"/>
<rect x="659.6" y="1354" width="561" height="3" fill="#cfcfcf"/>
<rect x="659.6" y="1357" width="561" height="3" fill="#000"/>
<rect x="659.6" y="1360" width="561" height="2.8" fill="#8a8a8a"/>
<rect x="1202.5" y="854" width="2.5" height="524" fill="#e0e0e0"/>
<rect x="1205" y="849" width="3" height="529" fill="#000"/>
<rect x="1208" y="854" width="2.5" height="524" fill="#e0e0e0"/>
<rect x="656" y="861.5" width="6.5" height="4" fill="#111"/>
<rect x="656" y="900.9" width="3.5" height="4" fill="#444"/>
<text x="598.5" y="870.7" font-size="29" textLength="46.8" lengthAdjust="spacingAndGlyphs" fill="#262626" stroke="#262626" stroke-width="0.8">0.480</text>
<rect x="656" y="940.3" width="6.5" height="4" fill="#111"/>
<rect x="656" y="979.7" width="3.5" height="4" fill="#444"/>
<text x="598.5" y="949.5" font-size="29" textLength="46.8" lengthAdjust="spacingAndGlyphs" fill="#262626" stroke="#262626" stroke-width="0.8">0.475</text>
<rect x="656" y="1019.1" width="6.5" height="4" fill="#111"/>
<rect x="656" y="1058.5" width="3.5" height="4" fill="#444"/>
<text x="598.5" y="1028.3" font-size="29" textLength="46.8" lengthAdjust="spacingAndGlyphs" fill="#262626" stroke="#262626" stroke-width="0.8">0.470</text>
<rect x="656" y="1097.9" width="6.5" height="4" fill="#111"/>
<rect x="656" y="1137.3" width="3.5" height="4" fill="#444"/>
<text x="598.5" y="1107.1" font-size="29" textLength="46.8" lengthAdjust="spacingAndGlyphs" fill="#262626" stroke="#262626" stroke-width="0.8">0.465</text>
<rect x="656" y="1176.7" width="6.5" height="4" fill="#111"/>
<rect x="656" y="1216.1" width="3.5" height="4" fill="#444"/>
<text x="598.5" y="1185.9" font-size="29" textLength="46.8" lengthAdjust="spacingAndGlyphs" fill="#262626" stroke="#262626" stroke-width="0.8">0.460</text>
<rect x="656" y="1255.5" width="6.5" height="4" fill="#111"/>
<rect x="656" y="1294.9" width="3.5" height="4" fill="#444"/>
<text x="598.5" y="1264.7" font-size="29" textLength="46.8" lengthAdjust="spacingAndGlyphs" fill="#262626" stroke="#262626" stroke-width="0.8">0.455</text>
<rect x="656" y="1334.3" width="6.5" height="4" fill="#111"/>
<text x="598.5" y="1343.5" font-size="29" textLength="46.8" lengthAdjust="spacingAndGlyphs" fill="#262626" stroke="#262626" stroke-width="0.8">0.450</text>
<rect x="688.2" y="1351" width="3.5" height="6" fill="#444"/>
<rect x="735.0" y="1348" width="3" height="9" fill="#000"/>
<text x="719.5" y="1392.5" font-size="29" textLength="32.5" lengthAdjust="spacingAndGlyphs" fill="#262626" stroke="#262626" stroke-width="0.8">142</text>
<rect x="781.8" y="1351" width="3.5" height="6" fill="#444"/>
<rect x="828.5" y="1348" width="3" height="9" fill="#000"/>
<text x="813.0" y="1392.5" font-size="29" textLength="32.5" lengthAdjust="spacingAndGlyphs" fill="#262626" stroke="#262626" stroke-width="0.8">144</text>
<rect x="875.2" y="1351" width="3.5" height="6" fill="#444"/>
<rect x="922.0" y="1348" width="3" height="9" fill="#000"/>
<text x="906.5" y="1392.5" font-size="29" textLength="32.5" lengthAdjust="spacingAndGlyphs" fill="#262626" stroke="#262626" stroke-width="0.8">146</text>
<rect x="968.8" y="1351" width="3.5" height="6" fill="#444"/>
<rect x="1015.5" y="1348" width="3" height="9" fill="#000"/>
<text x="1000.0" y="1392.5" font-size="29" textLength="32.5" lengthAdjust="spacingAndGlyphs" fill="#262626" stroke="#262626" stroke-width="0.8">148</text>
<rect x="1062.2" y="1351" width="3.5" height="6" fill="#444"/>
<rect x="1109.0" y="1348" width="3" height="9" fill="#000"/>
<text x="1093.5" y="1392.5" font-size="29" textLength="32.5" lengthAdjust="spacingAndGlyphs" fill="#262626" stroke="#262626" stroke-width="0.8">150</text>
<rect x="1155.8" y="1351" width="3.5" height="6" fill="#444"/>
<rect x="1202.5" y="1348" width="3" height="9" fill="#000"/>
<text x="1187.0" y="1392.5" font-size="29" textLength="32.5" lengthAdjust="spacingAndGlyphs" fill="#262626" stroke="#262626" stroke-width="0.8">152</text>
</g>
</svg></body></html>
